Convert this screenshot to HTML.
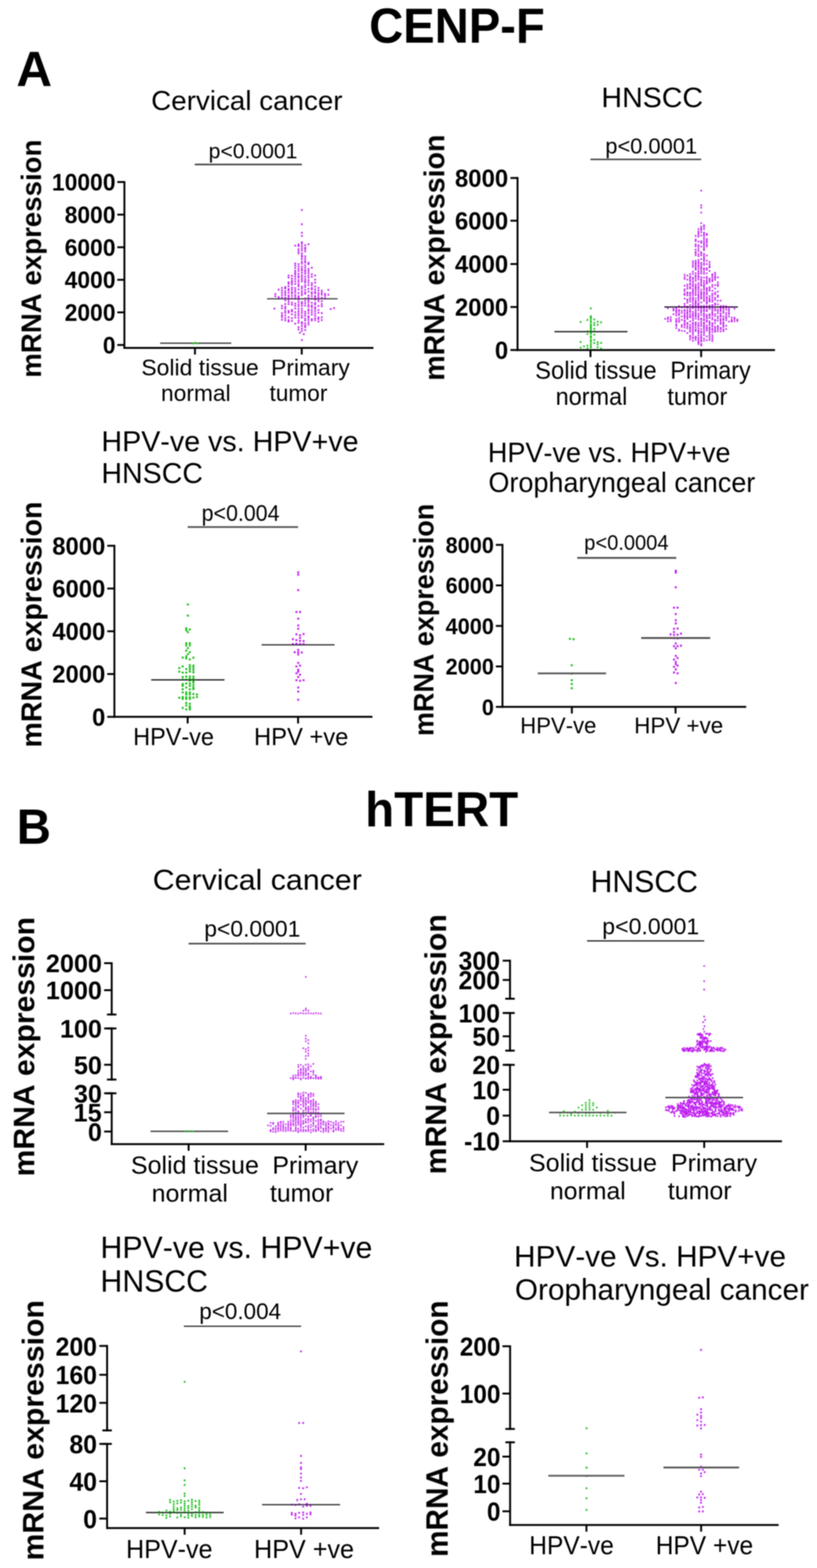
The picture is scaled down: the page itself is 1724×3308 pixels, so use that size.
<!DOCTYPE html>
<html lang="en"><head><meta charset="utf-8"><title>CENP-F and hTERT mRNA expression</title>
<style>
html,body{margin:0;padding:0;background:#fff;}
body{width:1724px;height:3308px;overflow:hidden;}
svg{display:block;font-family:'Liberation Sans', Arial, Helvetica, sans-serif;fill:#000;font-kerning:none;}
text{white-space:pre;}
</style></head><body>
<svg width="1724" height="3308" viewBox="0 0 1724 3308">
<rect width="1724" height="3308" fill="#fff"/>
<defs><filter id="soft" x="0" y="0" width="1724" height="3308" filterUnits="userSpaceOnUse"><feGaussianBlur stdDeviation="1.0"/></filter></defs>
<g filter="url(#soft)">
<text transform="translate(778.91,89.70) scale(0.9577,1)" font-size="104.0" font-weight="bold">CENP-F</text>
<text transform="translate(34.40,181.00) scale(1.0032,1)" font-size="104.0" font-weight="bold">A</text>
<text transform="translate(770.50,1742.60) scale(0.9643,1)" font-size="104.0" font-weight="bold">hTERT</text>
<text transform="translate(35.31,1780.00) scale(0.9618,1)" font-size="104.0" font-weight="bold">B</text>
<g id="A1">
<text transform="translate(319.02,232.00) scale(1.0284,1)" font-size="57.0">Cervical cancer</text>
<text transform="translate(440.32,333.60) scale(0.9914,1)" font-size="45.0">p&lt;0.0001</text>
<line x1="411.0" y1="347.0" x2="637.0" y2="347.0" stroke="#4a4a4a" stroke-width="3.4"/>
<path fill="#bd16f0" d="M579.2 618.5h3.5v3.5h-3.5zM579.2 623.2h3.5v3.5h-3.5zM586.2 609.2h3.5v3.5h-3.5zM586.2 625.0h3.5v3.5h-3.5zM586.2 628.1h3.5v3.5h-3.5zM593.2 605.7h3.5v3.5h-3.5zM593.2 610.9h3.5v3.5h-3.5zM593.2 615.8h3.5v3.5h-3.5zM593.2 620.7h3.5v3.5h-3.5zM593.2 626.1h3.5v3.5h-3.5zM593.2 643.5h3.5v3.5h-3.5zM593.2 648.4h3.5v3.5h-3.5zM593.2 658.7h3.5v3.5h-3.5zM593.2 663.5h3.5v3.5h-3.5zM593.2 667.2h3.5v3.5h-3.5zM593.2 672.7h3.5v3.5h-3.5zM600.2 603.7h3.5v3.5h-3.5zM600.2 607.0h3.5v3.5h-3.5zM600.2 612.8h3.5v3.5h-3.5zM600.2 616.8h3.5v3.5h-3.5zM600.2 620.9h3.5v3.5h-3.5zM600.2 626.2h3.5v3.5h-3.5zM600.2 632.0h3.5v3.5h-3.5zM600.2 639.8h3.5v3.5h-3.5zM600.2 645.4h3.5v3.5h-3.5zM600.2 649.2h3.5v3.5h-3.5zM600.2 654.2h3.5v3.5h-3.5zM600.2 658.4h3.5v3.5h-3.5zM600.2 664.1h3.5v3.5h-3.5zM600.2 669.5h3.5v3.5h-3.5zM600.2 674.1h3.5v3.5h-3.5zM607.2 579.5h3.5v3.5h-3.5zM607.2 584.1h3.5v3.5h-3.5zM607.2 593.8h3.5v3.5h-3.5zM607.2 596.9h3.5v3.5h-3.5zM607.2 601.9h3.5v3.5h-3.5zM607.2 607.8h3.5v3.5h-3.5zM607.2 611.2h3.5v3.5h-3.5zM607.2 616.0h3.5v3.5h-3.5zM607.2 621.4h3.5v3.5h-3.5zM607.2 625.3h3.5v3.5h-3.5zM607.2 630.5h3.5v3.5h-3.5zM607.2 635.0h3.5v3.5h-3.5zM607.2 639.7h3.5v3.5h-3.5zM607.2 654.3h3.5v3.5h-3.5zM607.2 657.8h3.5v3.5h-3.5zM607.2 667.3h3.5v3.5h-3.5zM607.2 673.4h3.5v3.5h-3.5zM607.2 676.8h3.5v3.5h-3.5zM614.2 580.3h3.5v3.5h-3.5zM614.2 586.1h3.5v3.5h-3.5zM614.2 590.7h3.5v3.5h-3.5zM614.2 594.5h3.5v3.5h-3.5zM614.2 598.6h3.5v3.5h-3.5zM614.2 604.9h3.5v3.5h-3.5zM614.2 609.3h3.5v3.5h-3.5zM614.2 614.2h3.5v3.5h-3.5zM614.2 617.3h3.5v3.5h-3.5zM614.2 622.4h3.5v3.5h-3.5zM614.2 627.8h3.5v3.5h-3.5zM614.2 636.6h3.5v3.5h-3.5zM614.2 641.1h3.5v3.5h-3.5zM614.2 651.9h3.5v3.5h-3.5zM614.2 655.2h3.5v3.5h-3.5zM614.2 661.3h3.5v3.5h-3.5zM614.2 669.5h3.5v3.5h-3.5zM614.2 675.3h3.5v3.5h-3.5zM621.2 516.6h3.5v3.5h-3.5zM621.2 554.1h3.5v3.5h-3.5zM621.2 558.6h3.5v3.5h-3.5zM621.2 563.6h3.5v3.5h-3.5zM621.2 569.2h3.5v3.5h-3.5zM621.2 573.3h3.5v3.5h-3.5zM621.2 576.9h3.5v3.5h-3.5zM621.2 581.6h3.5v3.5h-3.5zM621.2 586.5h3.5v3.5h-3.5zM621.2 591.8h3.5v3.5h-3.5zM621.2 597.2h3.5v3.5h-3.5zM621.2 606.0h3.5v3.5h-3.5zM621.2 610.7h3.5v3.5h-3.5zM621.2 615.0h3.5v3.5h-3.5zM621.2 620.2h3.5v3.5h-3.5zM621.2 624.6h3.5v3.5h-3.5zM621.2 628.7h3.5v3.5h-3.5zM621.2 638.8h3.5v3.5h-3.5zM621.2 643.4h3.5v3.5h-3.5zM621.2 648.9h3.5v3.5h-3.5zM621.2 657.1h3.5v3.5h-3.5zM621.2 662.7h3.5v3.5h-3.5zM621.2 667.9h3.5v3.5h-3.5zM621.2 680.9h3.5v3.5h-3.5zM628.2 514.0h3.5v3.5h-3.5zM628.2 517.6h3.5v3.5h-3.5zM628.2 523.9h3.5v3.5h-3.5zM628.2 528.6h3.5v3.5h-3.5zM628.2 532.7h3.5v3.5h-3.5zM628.2 555.4h3.5v3.5h-3.5zM628.2 560.5h3.5v3.5h-3.5zM628.2 565.6h3.5v3.5h-3.5zM628.2 569.9h3.5v3.5h-3.5zM628.2 575.8h3.5v3.5h-3.5zM628.2 580.6h3.5v3.5h-3.5zM628.2 583.8h3.5v3.5h-3.5zM628.2 589.3h3.5v3.5h-3.5zM628.2 593.8h3.5v3.5h-3.5zM628.2 598.6h3.5v3.5h-3.5zM628.2 602.3h3.5v3.5h-3.5zM628.2 608.8h3.5v3.5h-3.5zM628.2 616.5h3.5v3.5h-3.5zM628.2 622.8h3.5v3.5h-3.5zM628.2 626.1h3.5v3.5h-3.5zM628.2 630.6h3.5v3.5h-3.5zM628.2 635.5h3.5v3.5h-3.5zM628.2 640.4h3.5v3.5h-3.5zM628.2 644.7h3.5v3.5h-3.5zM628.2 650.2h3.5v3.5h-3.5zM628.2 654.9h3.5v3.5h-3.5zM628.2 659.4h3.5v3.5h-3.5zM628.2 663.7h3.5v3.5h-3.5zM628.2 669.0h3.5v3.5h-3.5zM628.2 674.4h3.5v3.5h-3.5zM628.2 679.0h3.5v3.5h-3.5zM628.2 688.6h3.5v3.5h-3.5zM628.2 693.3h3.5v3.5h-3.5zM635.2 512.4h3.5v3.5h-3.5zM635.2 517.4h3.5v3.5h-3.5zM635.2 522.1h3.5v3.5h-3.5zM635.2 526.4h3.5v3.5h-3.5zM635.2 532.6h3.5v3.5h-3.5zM635.2 536.9h3.5v3.5h-3.5zM635.2 540.5h3.5v3.5h-3.5zM635.2 544.9h3.5v3.5h-3.5zM635.2 550.6h3.5v3.5h-3.5zM635.2 554.6h3.5v3.5h-3.5zM635.2 560.7h3.5v3.5h-3.5zM635.2 565.5h3.5v3.5h-3.5zM635.2 568.9h3.5v3.5h-3.5zM635.2 573.8h3.5v3.5h-3.5zM635.2 579.1h3.5v3.5h-3.5zM635.2 583.3h3.5v3.5h-3.5zM635.2 587.5h3.5v3.5h-3.5zM635.2 591.8h3.5v3.5h-3.5zM635.2 602.9h3.5v3.5h-3.5zM635.2 607.1h3.5v3.5h-3.5zM635.2 612.2h3.5v3.5h-3.5zM635.2 616.8h3.5v3.5h-3.5zM635.2 620.8h3.5v3.5h-3.5zM635.2 635.6h3.5v3.5h-3.5zM635.2 638.9h3.5v3.5h-3.5zM635.2 643.5h3.5v3.5h-3.5zM635.2 649.4h3.5v3.5h-3.5zM635.2 654.2h3.5v3.5h-3.5zM635.2 658.7h3.5v3.5h-3.5zM635.2 664.3h3.5v3.5h-3.5zM635.2 668.5h3.5v3.5h-3.5zM635.2 677.9h3.5v3.5h-3.5zM635.2 681.2h3.5v3.5h-3.5zM635.2 686.0h3.5v3.5h-3.5zM635.2 691.6h3.5v3.5h-3.5zM635.2 696.3h3.5v3.5h-3.5zM642.2 515.4h3.5v3.5h-3.5zM642.2 520.8h3.5v3.5h-3.5zM642.2 524.0h3.5v3.5h-3.5zM642.2 528.5h3.5v3.5h-3.5zM642.2 538.9h3.5v3.5h-3.5zM642.2 543.8h3.5v3.5h-3.5zM642.2 548.6h3.5v3.5h-3.5zM642.2 552.3h3.5v3.5h-3.5zM642.2 558.1h3.5v3.5h-3.5zM642.2 562.7h3.5v3.5h-3.5zM642.2 567.8h3.5v3.5h-3.5zM642.2 571.5h3.5v3.5h-3.5zM642.2 575.8h3.5v3.5h-3.5zM642.2 581.5h3.5v3.5h-3.5zM642.2 586.4h3.5v3.5h-3.5zM642.2 590.7h3.5v3.5h-3.5zM642.2 594.3h3.5v3.5h-3.5zM642.2 599.7h3.5v3.5h-3.5zM642.2 604.1h3.5v3.5h-3.5zM642.2 609.8h3.5v3.5h-3.5zM642.2 614.9h3.5v3.5h-3.5zM642.2 617.9h3.5v3.5h-3.5zM642.2 627.8h3.5v3.5h-3.5zM642.2 632.9h3.5v3.5h-3.5zM642.2 638.0h3.5v3.5h-3.5zM642.2 643.1h3.5v3.5h-3.5zM642.2 655.8h3.5v3.5h-3.5zM642.2 660.2h3.5v3.5h-3.5zM642.2 664.8h3.5v3.5h-3.5zM642.2 670.6h3.5v3.5h-3.5zM642.2 674.5h3.5v3.5h-3.5zM642.2 680.4h3.5v3.5h-3.5zM642.2 685.1h3.5v3.5h-3.5zM642.2 688.6h3.5v3.5h-3.5zM642.2 694.5h3.5v3.5h-3.5zM649.2 513.6h3.5v3.5h-3.5zM649.2 552.4h3.5v3.5h-3.5zM649.2 555.5h3.5v3.5h-3.5zM649.2 565.8h3.5v3.5h-3.5zM649.2 570.0h3.5v3.5h-3.5zM649.2 574.5h3.5v3.5h-3.5zM649.2 579.4h3.5v3.5h-3.5zM649.2 584.0h3.5v3.5h-3.5zM649.2 589.6h3.5v3.5h-3.5zM649.2 594.3h3.5v3.5h-3.5zM649.2 599.5h3.5v3.5h-3.5zM649.2 607.6h3.5v3.5h-3.5zM649.2 613.6h3.5v3.5h-3.5zM649.2 621.8h3.5v3.5h-3.5zM649.2 626.6h3.5v3.5h-3.5zM649.2 632.1h3.5v3.5h-3.5zM649.2 636.3h3.5v3.5h-3.5zM649.2 641.6h3.5v3.5h-3.5zM649.2 645.6h3.5v3.5h-3.5zM649.2 651.2h3.5v3.5h-3.5zM649.2 654.1h3.5v3.5h-3.5zM649.2 658.9h3.5v3.5h-3.5zM649.2 665.2h3.5v3.5h-3.5zM649.2 668.4h3.5v3.5h-3.5zM649.2 673.3h3.5v3.5h-3.5zM649.2 678.5h3.5v3.5h-3.5zM649.2 682.9h3.5v3.5h-3.5zM656.2 562.9h3.5v3.5h-3.5zM656.2 576.8h3.5v3.5h-3.5zM656.2 581.9h3.5v3.5h-3.5zM656.2 595.7h3.5v3.5h-3.5zM656.2 599.9h3.5v3.5h-3.5zM656.2 605.7h3.5v3.5h-3.5zM656.2 608.8h3.5v3.5h-3.5zM656.2 615.0h3.5v3.5h-3.5zM656.2 618.0h3.5v3.5h-3.5zM656.2 622.9h3.5v3.5h-3.5zM656.2 628.4h3.5v3.5h-3.5zM656.2 637.0h3.5v3.5h-3.5zM656.2 642.7h3.5v3.5h-3.5zM656.2 646.4h3.5v3.5h-3.5zM656.2 652.2h3.5v3.5h-3.5zM656.2 657.0h3.5v3.5h-3.5zM656.2 661.9h3.5v3.5h-3.5zM656.2 671.4h3.5v3.5h-3.5zM656.2 674.3h3.5v3.5h-3.5zM663.2 579.4h3.5v3.5h-3.5zM663.2 588.3h3.5v3.5h-3.5zM663.2 594.6h3.5v3.5h-3.5zM663.2 602.7h3.5v3.5h-3.5zM663.2 608.8h3.5v3.5h-3.5zM663.2 613.7h3.5v3.5h-3.5zM663.2 616.8h3.5v3.5h-3.5zM663.2 622.8h3.5v3.5h-3.5zM663.2 626.0h3.5v3.5h-3.5zM663.2 630.8h3.5v3.5h-3.5zM663.2 637.2h3.5v3.5h-3.5zM663.2 640.6h3.5v3.5h-3.5zM663.2 646.5h3.5v3.5h-3.5zM663.2 649.8h3.5v3.5h-3.5zM663.2 654.4h3.5v3.5h-3.5zM663.2 659.4h3.5v3.5h-3.5zM663.2 664.4h3.5v3.5h-3.5zM663.2 669.5h3.5v3.5h-3.5zM663.2 673.8h3.5v3.5h-3.5zM670.2 605.8h3.5v3.5h-3.5zM670.2 610.9h3.5v3.5h-3.5zM670.2 616.5h3.5v3.5h-3.5zM670.2 620.4h3.5v3.5h-3.5zM670.2 625.0h3.5v3.5h-3.5zM670.2 629.4h3.5v3.5h-3.5zM670.2 633.7h3.5v3.5h-3.5zM670.2 643.8h3.5v3.5h-3.5zM670.2 652.3h3.5v3.5h-3.5zM670.2 658.1h3.5v3.5h-3.5zM670.2 667.9h3.5v3.5h-3.5zM670.2 671.3h3.5v3.5h-3.5zM670.2 676.4h3.5v3.5h-3.5zM677.2 611.6h3.5v3.5h-3.5zM677.2 615.8h3.5v3.5h-3.5zM677.2 619.7h3.5v3.5h-3.5zM677.2 626.4h3.5v3.5h-3.5zM677.2 633.8h3.5v3.5h-3.5zM677.2 639.8h3.5v3.5h-3.5zM677.2 644.2h3.5v3.5h-3.5zM677.2 658.8h3.5v3.5h-3.5zM677.2 667.7h3.5v3.5h-3.5zM677.2 673.4h3.5v3.5h-3.5zM684.2 618.3h3.5v3.5h-3.5zM684.2 622.3h3.5v3.5h-3.5zM684.2 627.1h3.5v3.5h-3.5zM691.2 609.9h3.5v3.5h-3.5zM691.2 620.1h3.5v3.5h-3.5z"/>
<path fill="#bd16f0" d="M635.2 441.2h3.5v3.5h-3.5zM635.2 471.2h3.5v3.5h-3.5zM635.2 489.2h3.5v3.5h-3.5zM635.2 495.9h3.5v3.5h-3.5zM635.2 509.2h3.5v3.5h-3.5zM635.2 715.8h3.5v3.5h-3.5zM631.2 700.2h3.5v3.5h-3.5zM639.2 703.2h3.5v3.5h-3.5zM577.2 649.2h3.5v3.5h-3.5zM696.2 650.2h3.5v3.5h-3.5zM703.2 648.2h3.5v3.5h-3.5z"/>
<line x1="338.0" y1="724.0" x2="488.0" y2="724.0" stroke="#2a2a2a" stroke-width="2.3"/>
<line x1="563.5" y1="630.4" x2="712.5" y2="630.4" stroke="#2a2a2a" stroke-width="2.3"/>
<path fill="#0cba0c" d="M406.4 723.0h3.2v3.2h-3.2zM410.4 721.4h3.2v3.2h-3.2zM414.4 723.0h3.2v3.2h-3.2z"/>
<line x1="262.5" y1="382.0" x2="262.5" y2="736.0" stroke="#000" stroke-width="4.0"/>
<line x1="247.5" y1="384.0" x2="262.5" y2="384.0" stroke="#000" stroke-width="4.0"/>
<text transform="translate(109.61,401.90) scale(0.9650,1)" font-size="50.0" font-weight="bold">10000</text>
<line x1="247.5" y1="452.8" x2="262.5" y2="452.8" stroke="#000" stroke-width="4.0"/>
<text transform="translate(136.44,470.70) scale(0.9650,1)" font-size="50.0" font-weight="bold">8000</text>
<line x1="247.5" y1="521.6" x2="262.5" y2="521.6" stroke="#000" stroke-width="4.0"/>
<text transform="translate(136.44,539.50) scale(0.9650,1)" font-size="50.0" font-weight="bold">6000</text>
<line x1="247.5" y1="590.3" x2="262.5" y2="590.3" stroke="#000" stroke-width="4.0"/>
<text transform="translate(136.44,608.20) scale(0.9650,1)" font-size="50.0" font-weight="bold">4000</text>
<line x1="247.5" y1="659.0" x2="262.5" y2="659.0" stroke="#000" stroke-width="4.0"/>
<text transform="translate(136.44,676.90) scale(0.9650,1)" font-size="50.0" font-weight="bold">2000</text>
<line x1="247.5" y1="727.8" x2="262.5" y2="727.8" stroke="#000" stroke-width="4.0"/>
<text transform="translate(216.94,745.70) scale(0.9650,1)" font-size="50.0" font-weight="bold">0</text>
<line x1="260.5" y1="734.0" x2="788.0" y2="734.0" stroke="#000" stroke-width="4.0"/>
<line x1="411.4" y1="734.0" x2="411.4" y2="748.0" stroke="#000" stroke-width="4.0"/>
<line x1="636.7" y1="734.0" x2="636.7" y2="748.0" stroke="#000" stroke-width="4.0"/>
<text transform="translate(298.30,791.50) scale(0.9993,1)" font-size="48.5">Solid tissue</text>
<text transform="translate(339.81,845.80) scale(0.9910,1)" font-size="48.5">normal</text>
<text transform="translate(572.05,791.50) scale(0.9940,1)" font-size="48.5">Primary</text>
<text transform="translate(568.78,845.80) scale(0.9842,1)" font-size="48.5">tumor</text>
<text transform="translate(86.50,796.85) rotate(-90) scale(0.9722,1)" font-size="60.0" font-weight="bold">mRNA expression</text>
</g>
<g id="A2">
<text transform="translate(1269.05,226.30) scale(1.0061,1)" font-size="60.0">HNSCC</text>
<text transform="translate(1277.22,323.70) scale(1.0153,1)" font-size="45.5">p&lt;0.0001</text>
<line x1="1246.0" y1="336.3" x2="1479.5" y2="336.3" stroke="#3a3a3a" stroke-width="3.0"/>
<path fill="#bd16f0" d="M1402.0 670.9h3.3v3.3h-3.3zM1407.8 648.6h3.3v3.3h-3.3zM1407.8 668.2h3.3v3.3h-3.3zM1407.8 671.4h3.3v3.3h-3.3zM1407.8 676.4h3.3v3.3h-3.3zM1413.7 667.5h3.3v3.3h-3.3zM1413.7 672.3h3.3v3.3h-3.3zM1413.7 675.9h3.3v3.3h-3.3zM1419.5 650.0h3.3v3.3h-3.3zM1419.5 653.3h3.3v3.3h-3.3zM1419.5 661.2h3.3v3.3h-3.3zM1425.4 648.7h3.3v3.3h-3.3zM1425.4 652.6h3.3v3.3h-3.3zM1425.4 655.7h3.3v3.3h-3.3zM1425.4 659.4h3.3v3.3h-3.3zM1425.4 663.7h3.3v3.3h-3.3zM1425.4 671.0h3.3v3.3h-3.3zM1425.4 674.9h3.3v3.3h-3.3zM1425.4 678.0h3.3v3.3h-3.3zM1425.4 683.0h3.3v3.3h-3.3zM1425.4 685.8h3.3v3.3h-3.3zM1425.4 690.5h3.3v3.3h-3.3zM1431.2 644.2h3.3v3.3h-3.3zM1431.2 651.9h3.3v3.3h-3.3zM1431.2 655.0h3.3v3.3h-3.3zM1431.2 659.4h3.3v3.3h-3.3zM1431.2 663.1h3.3v3.3h-3.3zM1431.2 669.5h3.3v3.3h-3.3zM1431.2 673.8h3.3v3.3h-3.3zM1431.2 677.5h3.3v3.3h-3.3zM1431.2 693.7h3.3v3.3h-3.3zM1431.2 696.0h3.3v3.3h-3.3zM1437.1 646.9h3.3v3.3h-3.3zM1437.1 654.0h3.3v3.3h-3.3zM1437.1 658.5h3.3v3.3h-3.3zM1437.1 666.0h3.3v3.3h-3.3zM1437.1 673.2h3.3v3.3h-3.3zM1437.1 684.1h3.3v3.3h-3.3zM1437.1 688.0h3.3v3.3h-3.3zM1437.1 696.2h3.3v3.3h-3.3zM1443.0 578.2h3.3v3.3h-3.3zM1443.0 582.9h3.3v3.3h-3.3zM1443.0 586.7h3.3v3.3h-3.3zM1443.0 600.9h3.3v3.3h-3.3zM1443.0 608.8h3.3v3.3h-3.3zM1443.0 612.2h3.3v3.3h-3.3zM1443.0 617.4h3.3v3.3h-3.3zM1443.0 620.7h3.3v3.3h-3.3zM1443.0 628.2h3.3v3.3h-3.3zM1443.0 639.6h3.3v3.3h-3.3zM1443.0 643.9h3.3v3.3h-3.3zM1443.0 651.8h3.3v3.3h-3.3zM1443.0 654.1h3.3v3.3h-3.3zM1443.0 658.5h3.3v3.3h-3.3zM1443.0 662.6h3.3v3.3h-3.3zM1443.0 666.0h3.3v3.3h-3.3zM1443.0 669.3h3.3v3.3h-3.3zM1443.0 674.1h3.3v3.3h-3.3zM1443.0 677.5h3.3v3.3h-3.3zM1443.0 681.4h3.3v3.3h-3.3zM1443.0 684.5h3.3v3.3h-3.3zM1443.0 689.3h3.3v3.3h-3.3zM1443.0 697.0h3.3v3.3h-3.3zM1448.8 579.7h3.3v3.3h-3.3zM1448.8 588.2h3.3v3.3h-3.3zM1448.8 598.8h3.3v3.3h-3.3zM1448.8 603.0h3.3v3.3h-3.3zM1448.8 607.4h3.3v3.3h-3.3zM1448.8 615.0h3.3v3.3h-3.3zM1448.8 617.8h3.3v3.3h-3.3zM1448.8 621.5h3.3v3.3h-3.3zM1448.8 630.0h3.3v3.3h-3.3zM1448.8 632.8h3.3v3.3h-3.3zM1448.8 636.9h3.3v3.3h-3.3zM1448.8 644.9h3.3v3.3h-3.3zM1448.8 648.3h3.3v3.3h-3.3zM1448.8 653.0h3.3v3.3h-3.3zM1448.8 656.8h3.3v3.3h-3.3zM1448.8 659.9h3.3v3.3h-3.3zM1448.8 664.0h3.3v3.3h-3.3zM1448.8 667.6h3.3v3.3h-3.3zM1448.8 671.2h3.3v3.3h-3.3zM1448.8 679.4h3.3v3.3h-3.3zM1448.8 682.0h3.3v3.3h-3.3zM1448.8 686.6h3.3v3.3h-3.3zM1448.8 690.8h3.3v3.3h-3.3zM1448.8 701.0h3.3v3.3h-3.3zM1454.6 576.5h3.3v3.3h-3.3zM1454.6 581.2h3.3v3.3h-3.3zM1454.6 584.5h3.3v3.3h-3.3zM1454.6 588.2h3.3v3.3h-3.3zM1454.6 591.7h3.3v3.3h-3.3zM1454.6 596.5h3.3v3.3h-3.3zM1454.6 599.3h3.3v3.3h-3.3zM1454.6 604.1h3.3v3.3h-3.3zM1454.6 606.9h3.3v3.3h-3.3zM1454.6 615.5h3.3v3.3h-3.3zM1454.6 618.3h3.3v3.3h-3.3zM1454.6 622.0h3.3v3.3h-3.3zM1454.6 626.8h3.3v3.3h-3.3zM1454.6 630.4h3.3v3.3h-3.3zM1454.6 634.7h3.3v3.3h-3.3zM1454.6 642.2h3.3v3.3h-3.3zM1454.6 650.1h3.3v3.3h-3.3zM1454.6 653.9h3.3v3.3h-3.3zM1454.6 656.7h3.3v3.3h-3.3zM1454.6 661.2h3.3v3.3h-3.3zM1454.6 665.3h3.3v3.3h-3.3zM1454.6 667.9h3.3v3.3h-3.3zM1454.6 676.4h3.3v3.3h-3.3zM1454.6 683.4h3.3v3.3h-3.3zM1454.6 687.9h3.3v3.3h-3.3zM1454.6 690.4h3.3v3.3h-3.3zM1454.6 694.2h3.3v3.3h-3.3zM1454.6 698.1h3.3v3.3h-3.3zM1454.6 706.4h3.3v3.3h-3.3zM1454.6 710.0h3.3v3.3h-3.3zM1454.6 714.4h3.3v3.3h-3.3zM1460.5 549.4h3.3v3.3h-3.3zM1460.5 553.5h3.3v3.3h-3.3zM1460.5 557.7h3.3v3.3h-3.3zM1460.5 561.4h3.3v3.3h-3.3zM1460.5 571.6h3.3v3.3h-3.3zM1460.5 576.3h3.3v3.3h-3.3zM1460.5 584.2h3.3v3.3h-3.3zM1460.5 586.9h3.3v3.3h-3.3zM1460.5 591.4h3.3v3.3h-3.3zM1460.5 595.4h3.3v3.3h-3.3zM1460.5 599.6h3.3v3.3h-3.3zM1460.5 602.4h3.3v3.3h-3.3zM1460.5 607.3h3.3v3.3h-3.3zM1460.5 611.0h3.3v3.3h-3.3zM1460.5 614.4h3.3v3.3h-3.3zM1460.5 617.6h3.3v3.3h-3.3zM1460.5 621.4h3.3v3.3h-3.3zM1460.5 626.0h3.3v3.3h-3.3zM1460.5 629.2h3.3v3.3h-3.3zM1460.5 632.7h3.3v3.3h-3.3zM1460.5 637.3h3.3v3.3h-3.3zM1460.5 641.4h3.3v3.3h-3.3zM1460.5 645.0h3.3v3.3h-3.3zM1460.5 648.4h3.3v3.3h-3.3zM1460.5 656.2h3.3v3.3h-3.3zM1460.5 660.2h3.3v3.3h-3.3zM1460.5 663.6h3.3v3.3h-3.3zM1460.5 666.7h3.3v3.3h-3.3zM1460.5 670.8h3.3v3.3h-3.3zM1460.5 674.4h3.3v3.3h-3.3zM1460.5 679.3h3.3v3.3h-3.3zM1460.5 682.2h3.3v3.3h-3.3zM1460.5 685.9h3.3v3.3h-3.3zM1460.5 689.8h3.3v3.3h-3.3zM1460.5 693.4h3.3v3.3h-3.3zM1460.5 697.3h3.3v3.3h-3.3zM1460.5 701.0h3.3v3.3h-3.3zM1460.5 704.8h3.3v3.3h-3.3zM1460.5 709.7h3.3v3.3h-3.3zM1460.5 712.2h3.3v3.3h-3.3zM1460.5 717.5h3.3v3.3h-3.3zM1466.3 495.9h3.3v3.3h-3.3zM1466.3 503.6h3.3v3.3h-3.3zM1466.3 507.2h3.3v3.3h-3.3zM1466.3 514.1h3.3v3.3h-3.3zM1466.3 517.9h3.3v3.3h-3.3zM1466.3 525.1h3.3v3.3h-3.3zM1466.3 529.9h3.3v3.3h-3.3zM1466.3 532.7h3.3v3.3h-3.3zM1466.3 536.7h3.3v3.3h-3.3zM1466.3 548.4h3.3v3.3h-3.3zM1466.3 552.3h3.3v3.3h-3.3zM1466.3 555.6h3.3v3.3h-3.3zM1466.3 559.6h3.3v3.3h-3.3zM1466.3 563.6h3.3v3.3h-3.3zM1466.3 567.1h3.3v3.3h-3.3zM1466.3 574.7h3.3v3.3h-3.3zM1466.3 579.3h3.3v3.3h-3.3zM1466.3 582.4h3.3v3.3h-3.3zM1466.3 586.8h3.3v3.3h-3.3zM1466.3 590.9h3.3v3.3h-3.3zM1466.3 598.3h3.3v3.3h-3.3zM1466.3 602.3h3.3v3.3h-3.3zM1466.3 605.2h3.3v3.3h-3.3zM1466.3 608.8h3.3v3.3h-3.3zM1466.3 612.7h3.3v3.3h-3.3zM1466.3 617.1h3.3v3.3h-3.3zM1466.3 621.3h3.3v3.3h-3.3zM1466.3 628.3h3.3v3.3h-3.3zM1466.3 632.9h3.3v3.3h-3.3zM1466.3 636.2h3.3v3.3h-3.3zM1466.3 639.5h3.3v3.3h-3.3zM1466.3 642.9h3.3v3.3h-3.3zM1466.3 646.6h3.3v3.3h-3.3zM1466.3 651.1h3.3v3.3h-3.3zM1466.3 655.2h3.3v3.3h-3.3zM1466.3 659.1h3.3v3.3h-3.3zM1466.3 662.8h3.3v3.3h-3.3zM1466.3 665.9h3.3v3.3h-3.3zM1466.3 670.4h3.3v3.3h-3.3zM1466.3 678.4h3.3v3.3h-3.3zM1466.3 682.0h3.3v3.3h-3.3zM1466.3 684.5h3.3v3.3h-3.3zM1466.3 688.9h3.3v3.3h-3.3zM1466.3 693.4h3.3v3.3h-3.3zM1466.3 696.8h3.3v3.3h-3.3zM1466.3 708.5h3.3v3.3h-3.3zM1466.3 711.6h3.3v3.3h-3.3zM1466.3 715.5h3.3v3.3h-3.3zM1472.2 481.4h3.3v3.3h-3.3zM1472.2 486.4h3.3v3.3h-3.3zM1472.2 490.0h3.3v3.3h-3.3zM1472.2 493.6h3.3v3.3h-3.3zM1472.2 497.7h3.3v3.3h-3.3zM1472.2 508.3h3.3v3.3h-3.3zM1472.2 515.4h3.3v3.3h-3.3zM1472.2 519.0h3.3v3.3h-3.3zM1472.2 523.8h3.3v3.3h-3.3zM1472.2 528.1h3.3v3.3h-3.3zM1472.2 534.7h3.3v3.3h-3.3zM1472.2 538.7h3.3v3.3h-3.3zM1472.2 546.8h3.3v3.3h-3.3zM1472.2 550.8h3.3v3.3h-3.3zM1472.2 553.7h3.3v3.3h-3.3zM1472.2 557.8h3.3v3.3h-3.3zM1472.2 560.8h3.3v3.3h-3.3zM1472.2 564.9h3.3v3.3h-3.3zM1472.2 569.7h3.3v3.3h-3.3zM1472.2 573.4h3.3v3.3h-3.3zM1472.2 576.9h3.3v3.3h-3.3zM1472.2 581.0h3.3v3.3h-3.3zM1472.2 584.0h3.3v3.3h-3.3zM1472.2 588.2h3.3v3.3h-3.3zM1472.2 595.4h3.3v3.3h-3.3zM1472.2 599.6h3.3v3.3h-3.3zM1472.2 603.9h3.3v3.3h-3.3zM1472.2 606.5h3.3v3.3h-3.3zM1472.2 610.5h3.3v3.3h-3.3zM1472.2 614.8h3.3v3.3h-3.3zM1472.2 619.0h3.3v3.3h-3.3zM1472.2 622.2h3.3v3.3h-3.3zM1472.2 625.8h3.3v3.3h-3.3zM1472.2 629.2h3.3v3.3h-3.3zM1472.2 633.3h3.3v3.3h-3.3zM1472.2 638.2h3.3v3.3h-3.3zM1472.2 641.3h3.3v3.3h-3.3zM1472.2 644.5h3.3v3.3h-3.3zM1472.2 648.7h3.3v3.3h-3.3zM1472.2 653.0h3.3v3.3h-3.3zM1472.2 660.1h3.3v3.3h-3.3zM1472.2 664.6h3.3v3.3h-3.3zM1472.2 668.3h3.3v3.3h-3.3zM1472.2 672.5h3.3v3.3h-3.3zM1472.2 679.5h3.3v3.3h-3.3zM1472.2 683.7h3.3v3.3h-3.3zM1472.2 686.4h3.3v3.3h-3.3zM1472.2 691.0h3.3v3.3h-3.3zM1472.2 695.3h3.3v3.3h-3.3zM1472.2 697.9h3.3v3.3h-3.3zM1472.2 701.5h3.3v3.3h-3.3zM1472.2 705.8h3.3v3.3h-3.3zM1472.2 710.2h3.3v3.3h-3.3zM1472.2 713.9h3.3v3.3h-3.3zM1472.2 718.1h3.3v3.3h-3.3zM1472.2 720.9h3.3v3.3h-3.3zM1472.2 724.3h3.3v3.3h-3.3zM1478.0 469.3h3.3v3.3h-3.3zM1478.0 476.7h3.3v3.3h-3.3zM1478.0 480.6h3.3v3.3h-3.3zM1478.0 483.7h3.3v3.3h-3.3zM1478.0 488.3h3.3v3.3h-3.3zM1478.0 495.2h3.3v3.3h-3.3zM1478.0 507.3h3.3v3.3h-3.3zM1478.0 510.6h3.3v3.3h-3.3zM1478.0 518.5h3.3v3.3h-3.3zM1478.0 530.4h3.3v3.3h-3.3zM1478.0 533.1h3.3v3.3h-3.3zM1478.0 537.3h3.3v3.3h-3.3zM1478.0 544.9h3.3v3.3h-3.3zM1478.0 553.1h3.3v3.3h-3.3zM1478.0 556.8h3.3v3.3h-3.3zM1478.0 560.8h3.3v3.3h-3.3zM1478.0 563.4h3.3v3.3h-3.3zM1478.0 567.1h3.3v3.3h-3.3zM1478.0 571.6h3.3v3.3h-3.3zM1478.0 575.4h3.3v3.3h-3.3zM1478.0 583.0h3.3v3.3h-3.3zM1478.0 587.3h3.3v3.3h-3.3zM1478.0 590.1h3.3v3.3h-3.3zM1478.0 594.0h3.3v3.3h-3.3zM1478.0 598.3h3.3v3.3h-3.3zM1478.0 601.3h3.3v3.3h-3.3zM1478.0 609.2h3.3v3.3h-3.3zM1478.0 613.9h3.3v3.3h-3.3zM1478.0 617.3h3.3v3.3h-3.3zM1478.0 620.6h3.3v3.3h-3.3zM1478.0 624.8h3.3v3.3h-3.3zM1478.0 628.1h3.3v3.3h-3.3zM1478.0 636.5h3.3v3.3h-3.3zM1478.0 644.1h3.3v3.3h-3.3zM1478.0 647.4h3.3v3.3h-3.3zM1478.0 651.2h3.3v3.3h-3.3zM1478.0 654.7h3.3v3.3h-3.3zM1478.0 658.3h3.3v3.3h-3.3zM1478.0 662.9h3.3v3.3h-3.3zM1478.0 670.2h3.3v3.3h-3.3zM1478.0 673.5h3.3v3.3h-3.3zM1478.0 678.1h3.3v3.3h-3.3zM1478.0 682.3h3.3v3.3h-3.3zM1478.0 686.2h3.3v3.3h-3.3zM1478.0 692.5h3.3v3.3h-3.3zM1478.0 697.6h3.3v3.3h-3.3zM1478.0 700.2h3.3v3.3h-3.3zM1478.0 705.0h3.3v3.3h-3.3zM1478.0 708.9h3.3v3.3h-3.3zM1478.0 712.3h3.3v3.3h-3.3zM1478.0 716.1h3.3v3.3h-3.3zM1478.0 718.9h3.3v3.3h-3.3zM1478.0 723.9h3.3v3.3h-3.3zM1478.0 727.2h3.3v3.3h-3.3zM1483.9 473.4h3.3v3.3h-3.3zM1483.9 477.0h3.3v3.3h-3.3zM1483.9 481.5h3.3v3.3h-3.3zM1483.9 489.0h3.3v3.3h-3.3zM1483.9 491.7h3.3v3.3h-3.3zM1483.9 495.3h3.3v3.3h-3.3zM1483.9 499.5h3.3v3.3h-3.3zM1483.9 503.4h3.3v3.3h-3.3zM1483.9 507.8h3.3v3.3h-3.3zM1483.9 511.6h3.3v3.3h-3.3zM1483.9 515.1h3.3v3.3h-3.3zM1483.9 519.4h3.3v3.3h-3.3zM1483.9 523.1h3.3v3.3h-3.3zM1483.9 526.3h3.3v3.3h-3.3zM1483.9 534.1h3.3v3.3h-3.3zM1483.9 538.2h3.3v3.3h-3.3zM1483.9 542.0h3.3v3.3h-3.3zM1483.9 545.6h3.3v3.3h-3.3zM1483.9 548.5h3.3v3.3h-3.3zM1483.9 553.3h3.3v3.3h-3.3zM1483.9 557.1h3.3v3.3h-3.3zM1483.9 564.2h3.3v3.3h-3.3zM1483.9 567.4h3.3v3.3h-3.3zM1483.9 571.9h3.3v3.3h-3.3zM1483.9 576.0h3.3v3.3h-3.3zM1483.9 583.9h3.3v3.3h-3.3zM1483.9 590.7h3.3v3.3h-3.3zM1483.9 594.9h3.3v3.3h-3.3zM1483.9 599.0h3.3v3.3h-3.3zM1483.9 602.1h3.3v3.3h-3.3zM1483.9 605.8h3.3v3.3h-3.3zM1483.9 609.6h3.3v3.3h-3.3zM1483.9 614.5h3.3v3.3h-3.3zM1483.9 617.8h3.3v3.3h-3.3zM1483.9 621.6h3.3v3.3h-3.3zM1483.9 625.5h3.3v3.3h-3.3zM1483.9 629.5h3.3v3.3h-3.3zM1483.9 633.2h3.3v3.3h-3.3zM1483.9 643.6h3.3v3.3h-3.3zM1483.9 648.5h3.3v3.3h-3.3zM1483.9 652.2h3.3v3.3h-3.3zM1483.9 654.9h3.3v3.3h-3.3zM1483.9 659.7h3.3v3.3h-3.3zM1483.9 663.3h3.3v3.3h-3.3zM1483.9 666.9h3.3v3.3h-3.3zM1483.9 671.5h3.3v3.3h-3.3zM1483.9 674.2h3.3v3.3h-3.3zM1483.9 678.9h3.3v3.3h-3.3zM1483.9 682.3h3.3v3.3h-3.3zM1483.9 685.9h3.3v3.3h-3.3zM1483.9 689.6h3.3v3.3h-3.3zM1483.9 693.4h3.3v3.3h-3.3zM1483.9 697.4h3.3v3.3h-3.3zM1483.9 701.2h3.3v3.3h-3.3zM1483.9 705.4h3.3v3.3h-3.3zM1483.9 712.5h3.3v3.3h-3.3zM1483.9 717.0h3.3v3.3h-3.3zM1489.8 491.6h3.3v3.3h-3.3zM1489.8 494.3h3.3v3.3h-3.3zM1489.8 502.6h3.3v3.3h-3.3zM1489.8 506.5h3.3v3.3h-3.3zM1489.8 509.7h3.3v3.3h-3.3zM1489.8 514.3h3.3v3.3h-3.3zM1489.8 518.1h3.3v3.3h-3.3zM1489.8 537.4h3.3v3.3h-3.3zM1489.8 548.2h3.3v3.3h-3.3zM1489.8 555.4h3.3v3.3h-3.3zM1489.8 564.2h3.3v3.3h-3.3zM1489.8 567.4h3.3v3.3h-3.3zM1489.8 575.0h3.3v3.3h-3.3zM1489.8 582.4h3.3v3.3h-3.3zM1489.8 585.9h3.3v3.3h-3.3zM1489.8 590.2h3.3v3.3h-3.3zM1489.8 593.7h3.3v3.3h-3.3zM1489.8 596.9h3.3v3.3h-3.3zM1489.8 606.1h3.3v3.3h-3.3zM1489.8 608.8h3.3v3.3h-3.3zM1489.8 612.3h3.3v3.3h-3.3zM1489.8 616.3h3.3v3.3h-3.3zM1489.8 619.7h3.3v3.3h-3.3zM1489.8 625.0h3.3v3.3h-3.3zM1489.8 627.5h3.3v3.3h-3.3zM1489.8 631.6h3.3v3.3h-3.3zM1489.8 635.6h3.3v3.3h-3.3zM1489.8 638.8h3.3v3.3h-3.3zM1489.8 644.1h3.3v3.3h-3.3zM1489.8 647.0h3.3v3.3h-3.3zM1489.8 651.7h3.3v3.3h-3.3zM1489.8 654.6h3.3v3.3h-3.3zM1489.8 662.5h3.3v3.3h-3.3zM1489.8 666.2h3.3v3.3h-3.3zM1489.8 669.7h3.3v3.3h-3.3zM1489.8 674.0h3.3v3.3h-3.3zM1489.8 677.3h3.3v3.3h-3.3zM1489.8 685.0h3.3v3.3h-3.3zM1489.8 689.0h3.3v3.3h-3.3zM1489.8 692.3h3.3v3.3h-3.3zM1489.8 695.9h3.3v3.3h-3.3zM1489.8 707.9h3.3v3.3h-3.3zM1489.8 715.9h3.3v3.3h-3.3zM1495.6 550.7h3.3v3.3h-3.3zM1495.6 555.4h3.3v3.3h-3.3zM1495.6 559.7h3.3v3.3h-3.3zM1495.6 562.4h3.3v3.3h-3.3zM1495.6 569.9h3.3v3.3h-3.3zM1495.6 586.2h3.3v3.3h-3.3zM1495.6 589.6h3.3v3.3h-3.3zM1495.6 593.3h3.3v3.3h-3.3zM1495.6 604.3h3.3v3.3h-3.3zM1495.6 607.8h3.3v3.3h-3.3zM1495.6 611.6h3.3v3.3h-3.3zM1495.6 623.3h3.3v3.3h-3.3zM1495.6 628.1h3.3v3.3h-3.3zM1495.6 631.7h3.3v3.3h-3.3zM1495.6 634.5h3.3v3.3h-3.3zM1495.6 643.1h3.3v3.3h-3.3zM1495.6 646.3h3.3v3.3h-3.3zM1495.6 649.9h3.3v3.3h-3.3zM1495.6 661.3h3.3v3.3h-3.3zM1495.6 664.7h3.3v3.3h-3.3zM1495.6 669.1h3.3v3.3h-3.3zM1495.6 676.4h3.3v3.3h-3.3zM1495.6 680.1h3.3v3.3h-3.3zM1495.6 683.9h3.3v3.3h-3.3zM1495.6 688.9h3.3v3.3h-3.3zM1495.6 692.2h3.3v3.3h-3.3zM1495.6 695.1h3.3v3.3h-3.3zM1495.6 698.9h3.3v3.3h-3.3zM1495.6 702.8h3.3v3.3h-3.3zM1495.6 706.7h3.3v3.3h-3.3zM1495.6 711.1h3.3v3.3h-3.3zM1495.6 715.6h3.3v3.3h-3.3zM1501.5 576.9h3.3v3.3h-3.3zM1501.5 580.3h3.3v3.3h-3.3zM1501.5 584.3h3.3v3.3h-3.3zM1501.5 588.2h3.3v3.3h-3.3zM1501.5 591.6h3.3v3.3h-3.3zM1501.5 599.4h3.3v3.3h-3.3zM1501.5 603.7h3.3v3.3h-3.3zM1501.5 611.8h3.3v3.3h-3.3zM1501.5 618.0h3.3v3.3h-3.3zM1501.5 621.8h3.3v3.3h-3.3zM1501.5 625.9h3.3v3.3h-3.3zM1501.5 630.8h3.3v3.3h-3.3zM1501.5 634.6h3.3v3.3h-3.3zM1501.5 641.8h3.3v3.3h-3.3zM1501.5 644.7h3.3v3.3h-3.3zM1501.5 649.6h3.3v3.3h-3.3zM1501.5 653.3h3.3v3.3h-3.3zM1501.5 656.9h3.3v3.3h-3.3zM1501.5 660.4h3.3v3.3h-3.3zM1501.5 663.5h3.3v3.3h-3.3zM1501.5 668.4h3.3v3.3h-3.3zM1501.5 672.2h3.3v3.3h-3.3zM1501.5 679.9h3.3v3.3h-3.3zM1501.5 683.5h3.3v3.3h-3.3zM1501.5 686.9h3.3v3.3h-3.3zM1501.5 691.4h3.3v3.3h-3.3zM1501.5 694.4h3.3v3.3h-3.3zM1501.5 699.1h3.3v3.3h-3.3zM1501.5 705.5h3.3v3.3h-3.3zM1501.5 709.4h3.3v3.3h-3.3zM1501.5 713.6h3.3v3.3h-3.3zM1501.5 717.7h3.3v3.3h-3.3zM1507.3 573.8h3.3v3.3h-3.3zM1507.3 577.4h3.3v3.3h-3.3zM1507.3 581.5h3.3v3.3h-3.3zM1507.3 584.7h3.3v3.3h-3.3zM1507.3 588.5h3.3v3.3h-3.3zM1507.3 599.8h3.3v3.3h-3.3zM1507.3 607.2h3.3v3.3h-3.3zM1507.3 615.4h3.3v3.3h-3.3zM1507.3 619.2h3.3v3.3h-3.3zM1507.3 626.5h3.3v3.3h-3.3zM1507.3 630.6h3.3v3.3h-3.3zM1507.3 638.6h3.3v3.3h-3.3zM1507.3 641.8h3.3v3.3h-3.3zM1507.3 650.0h3.3v3.3h-3.3zM1507.3 653.5h3.3v3.3h-3.3zM1507.3 660.9h3.3v3.3h-3.3zM1507.3 665.2h3.3v3.3h-3.3zM1507.3 672.7h3.3v3.3h-3.3zM1507.3 675.5h3.3v3.3h-3.3zM1507.3 680.3h3.3v3.3h-3.3zM1507.3 687.5h3.3v3.3h-3.3zM1507.3 691.1h3.3v3.3h-3.3zM1507.3 695.1h3.3v3.3h-3.3zM1507.3 698.2h3.3v3.3h-3.3zM1513.1 583.4h3.3v3.3h-3.3zM1513.1 594.0h3.3v3.3h-3.3zM1513.1 598.4h3.3v3.3h-3.3zM1513.1 601.6h3.3v3.3h-3.3zM1513.1 613.8h3.3v3.3h-3.3zM1513.1 621.7h3.3v3.3h-3.3zM1513.1 624.4h3.3v3.3h-3.3zM1513.1 632.7h3.3v3.3h-3.3zM1513.1 640.4h3.3v3.3h-3.3zM1513.1 651.3h3.3v3.3h-3.3zM1513.1 654.9h3.3v3.3h-3.3zM1513.1 659.2h3.3v3.3h-3.3zM1513.1 666.0h3.3v3.3h-3.3zM1513.1 670.0h3.3v3.3h-3.3zM1513.1 674.7h3.3v3.3h-3.3zM1513.1 686.1h3.3v3.3h-3.3zM1513.1 689.3h3.3v3.3h-3.3zM1513.1 693.1h3.3v3.3h-3.3zM1513.1 697.2h3.3v3.3h-3.3zM1519.0 632.7h3.3v3.3h-3.3zM1519.0 644.0h3.3v3.3h-3.3zM1519.0 648.2h3.3v3.3h-3.3zM1519.0 651.5h3.3v3.3h-3.3zM1519.0 654.7h3.3v3.3h-3.3zM1519.0 659.8h3.3v3.3h-3.3zM1519.0 663.2h3.3v3.3h-3.3zM1519.0 666.6h3.3v3.3h-3.3zM1519.0 671.4h3.3v3.3h-3.3zM1519.0 674.7h3.3v3.3h-3.3zM1519.0 678.5h3.3v3.3h-3.3zM1519.0 682.0h3.3v3.3h-3.3zM1519.0 689.8h3.3v3.3h-3.3zM1519.0 692.8h3.3v3.3h-3.3zM1519.0 697.4h3.3v3.3h-3.3zM1524.8 644.0h3.3v3.3h-3.3zM1524.8 646.8h3.3v3.3h-3.3zM1524.8 650.2h3.3v3.3h-3.3zM1524.8 654.8h3.3v3.3h-3.3zM1524.8 658.4h3.3v3.3h-3.3zM1524.8 665.7h3.3v3.3h-3.3zM1524.8 670.2h3.3v3.3h-3.3zM1524.8 673.4h3.3v3.3h-3.3zM1524.8 678.1h3.3v3.3h-3.3zM1524.8 681.4h3.3v3.3h-3.3zM1524.8 685.0h3.3v3.3h-3.3zM1524.8 688.4h3.3v3.3h-3.3zM1524.8 693.5h3.3v3.3h-3.3zM1524.8 696.7h3.3v3.3h-3.3zM1530.7 644.2h3.3v3.3h-3.3zM1530.7 647.5h3.3v3.3h-3.3zM1530.7 651.8h3.3v3.3h-3.3zM1530.7 658.4h3.3v3.3h-3.3zM1530.7 662.9h3.3v3.3h-3.3zM1530.7 667.2h3.3v3.3h-3.3zM1530.7 669.7h3.3v3.3h-3.3zM1530.7 673.8h3.3v3.3h-3.3zM1530.7 685.6h3.3v3.3h-3.3zM1530.7 692.4h3.3v3.3h-3.3zM1536.5 646.8h3.3v3.3h-3.3zM1536.5 650.7h3.3v3.3h-3.3zM1536.5 654.2h3.3v3.3h-3.3zM1536.5 658.5h3.3v3.3h-3.3zM1536.5 661.0h3.3v3.3h-3.3zM1536.5 665.9h3.3v3.3h-3.3zM1536.5 676.8h3.3v3.3h-3.3zM1542.4 646.0h3.3v3.3h-3.3zM1542.4 668.5h3.3v3.3h-3.3zM1542.4 673.1h3.3v3.3h-3.3zM1542.4 676.6h3.3v3.3h-3.3zM1548.2 649.8h3.3v3.3h-3.3zM1548.2 668.5h3.3v3.3h-3.3zM1548.2 671.6h3.3v3.3h-3.3zM1548.2 675.9h3.3v3.3h-3.3zM1554.1 672.6h3.3v3.3h-3.3zM1554.1 675.8h3.3v3.3h-3.3z"/>
<path fill="#0cba0c" d="M1223.5 677.5h3.5v3.5h-3.5zM1223.5 719.8h3.5v3.5h-3.5zM1223.5 731.7h3.5v3.5h-3.5zM1230.6 729.0h3.5v3.5h-3.5zM1237.8 673.3h3.5v3.5h-3.5zM1237.8 697.3h3.5v3.5h-3.5zM1237.8 702.7h3.5v3.5h-3.5zM1237.8 727.4h3.5v3.5h-3.5zM1237.8 733.2h3.5v3.5h-3.5zM1245.0 665.3h3.5v3.5h-3.5zM1245.0 683.6h3.5v3.5h-3.5zM1245.0 689.5h3.5v3.5h-3.5zM1245.0 695.5h3.5v3.5h-3.5zM1245.0 701.2h3.5v3.5h-3.5zM1245.0 708.3h3.5v3.5h-3.5zM1245.0 718.6h3.5v3.5h-3.5zM1245.0 731.1h3.5v3.5h-3.5zM1252.2 672.3h3.5v3.5h-3.5zM1252.2 679.5h3.5v3.5h-3.5zM1252.2 684.3h3.5v3.5h-3.5zM1252.2 692.1h3.5v3.5h-3.5zM1252.2 697.2h3.5v3.5h-3.5zM1252.2 704.2h3.5v3.5h-3.5zM1252.2 715.5h3.5v3.5h-3.5zM1252.2 721.9h3.5v3.5h-3.5zM1259.5 677.0h3.5v3.5h-3.5zM1259.5 683.2h3.5v3.5h-3.5zM1259.5 720.3h3.5v3.5h-3.5zM1259.5 724.8h3.5v3.5h-3.5zM1259.5 730.7h3.5v3.5h-3.5zM1266.6 678.3h3.5v3.5h-3.5zM1266.6 721.8h3.5v3.5h-3.5zM1266.6 733.6h3.5v3.5h-3.5z"/>
<path fill="#0cba0c" d="M1245.0 667.2h3.5v3.5h-3.5zM1245.0 670.6h3.5v3.5h-3.5zM1245.0 674.7h3.5v3.5h-3.5zM1245.0 678.5h3.5v3.5h-3.5zM1245.0 683.1h3.5v3.5h-3.5zM1245.0 686.5h3.5v3.5h-3.5zM1245.0 691.2h3.5v3.5h-3.5zM1245.0 694.9h3.5v3.5h-3.5zM1245.0 699.1h3.5v3.5h-3.5zM1245.0 702.5h3.5v3.5h-3.5zM1245.0 707.2h3.5v3.5h-3.5zM1245.0 710.7h3.5v3.5h-3.5zM1245.0 715.4h3.5v3.5h-3.5zM1245.0 718.6h3.5v3.5h-3.5zM1245.0 723.1h3.5v3.5h-3.5zM1245.0 726.9h3.5v3.5h-3.5zM1245.0 731.4h3.5v3.5h-3.5z"/>
<path fill="#bd16f0" d="M1478.0 400.4h3.3v3.3h-3.3zM1478.0 431.4h3.3v3.3h-3.3zM1478.0 436.4h3.3v3.3h-3.3zM1478.0 446.9h3.3v3.3h-3.3z"/>
<path fill="#0cba0c" d="M1245.0 648.8h3.5v3.5h-3.5z"/>
<line x1="1170.0" y1="699.7" x2="1324.0" y2="699.7" stroke="#0c0c0c" stroke-width="2.4"/>
<line x1="1402.0" y1="647.7" x2="1557.0" y2="647.7" stroke="#0c0c0c" stroke-width="2.4"/>
<line x1="1092.1" y1="373.5" x2="1092.1" y2="740.4" stroke="#000" stroke-width="4.0"/>
<line x1="1077.1" y1="375.5" x2="1092.1" y2="375.5" stroke="#000" stroke-width="4.0"/>
<text transform="translate(960.05,393.76) scale(0.9900,1)" font-size="51.0" font-weight="bold">8000</text>
<line x1="1077.1" y1="465.6" x2="1092.1" y2="465.6" stroke="#000" stroke-width="4.0"/>
<text transform="translate(960.05,483.86) scale(0.9900,1)" font-size="51.0" font-weight="bold">6000</text>
<line x1="1077.1" y1="557.0" x2="1092.1" y2="557.0" stroke="#000" stroke-width="4.0"/>
<text transform="translate(960.05,575.26) scale(0.9900,1)" font-size="51.0" font-weight="bold">4000</text>
<line x1="1077.1" y1="647.7" x2="1092.1" y2="647.7" stroke="#000" stroke-width="4.0"/>
<text transform="translate(960.05,665.96) scale(0.9900,1)" font-size="51.0" font-weight="bold">2000</text>
<line x1="1077.1" y1="738.4" x2="1092.1" y2="738.4" stroke="#000" stroke-width="4.0"/>
<text transform="translate(1044.29,756.66) scale(0.9900,1)" font-size="51.0" font-weight="bold">0</text>
<line x1="1090.1" y1="738.4" x2="1635.4" y2="738.4" stroke="#000" stroke-width="4.0"/>
<line x1="1246.0" y1="738.4" x2="1246.0" y2="753.4" stroke="#000" stroke-width="4.0"/>
<line x1="1479.5" y1="738.4" x2="1479.5" y2="753.4" stroke="#000" stroke-width="4.0"/>
<text transform="translate(1129.32,798.80) scale(0.9831,1)" font-size="51.0">Solid tissue</text>
<text transform="translate(1172.51,854.20) scale(0.9706,1)" font-size="51.0">normal</text>
<text transform="translate(1414.46,798.80) scale(0.9657,1)" font-size="51.0">Primary</text>
<text transform="translate(1408.25,854.20) scale(0.9709,1)" font-size="51.0">tumor</text>
<text transform="translate(937.40,803.28) rotate(-90) scale(0.9969,1)" font-size="60.5" font-weight="bold">mRNA expression</text>
</g>
<g id="A3">
<text transform="translate(214.04,951.80) scale(0.9912,1)" font-size="61.0">HPV-ve vs. HPV+ve</text>
<text transform="translate(214.06,1018.80) scale(0.9877,1)" font-size="61.0">HNSCC</text>
<text transform="translate(425.49,1098.60) scale(0.9498,1)" font-size="47.5">p&lt;0.004</text>
<line x1="396.0" y1="1111.8" x2="629.0" y2="1111.8" stroke="#5a5a5a" stroke-width="3.8"/>
<path fill="#0cba0c" d="M394.4 1273.2h4v4h-4zM394.4 1296.8h4v4h-4zM391.0 1323.5h4v4h-4zM391.0 1327.7h4v4h-4zM398.5 1325.9h4v4h-4zM394.4 1331.4h4v4h-4zM391.0 1355.1h4v4h-4zM398.5 1355.1h4v4h-4zM391.0 1359.5h4v4h-4zM398.5 1359.5h4v4h-4zM394.4 1365.3h4v4h-4zM391.0 1370.8h4v4h-4zM398.5 1373.9h4v4h-4zM394.4 1378.3h4v4h-4zM383.5 1385.2h4v4h-4zM391.0 1382.8h4v4h-4zM391.0 1386.9h4v4h-4zM406.1 1385.5h4v4h-4zM398.5 1389.3h4v4h-4zM376.3 1407.5h4v4h-4zM376.3 1415.0h4v4h-4zM383.5 1404.0h4v4h-4zM383.5 1417.0h4v4h-4zM391.0 1409.5h4v4h-4zM391.0 1417.0h4v4h-4zM398.5 1401.3h4v4h-4zM398.5 1405.7h4v4h-4zM398.5 1410.2h4v4h-4zM398.5 1415.0h4v4h-4zM406.1 1402.3h4v4h-4zM406.1 1406.8h4v4h-4zM406.1 1411.6h4v4h-4zM406.1 1416.4h4v4h-4zM383.5 1426.3h4v4h-4zM391.0 1425.3h4v4h-4zM398.5 1425.3h4v4h-4zM406.1 1425.3h4v4h-4zM383.5 1431.4h4v4h-4zM391.0 1431.4h4v4h-4zM398.5 1429.7h4v4h-4zM406.1 1429.7h4v4h-4zM398.5 1434.2h4v4h-4zM406.1 1434.8h4v4h-4zM383.5 1441.0h4v4h-4zM391.0 1440.0h4v4h-4zM398.5 1440.0h4v4h-4zM406.1 1438.3h4v4h-4zM383.5 1445.1h4v4h-4zM398.5 1445.1h4v4h-4zM406.1 1443.4h4v4h-4zM391.0 1448.5h4v4h-4zM406.1 1448.5h4v4h-4zM383.5 1452.0h4v4h-4zM398.5 1452.0h4v4h-4zM406.1 1452.0h4v4h-4zM383.5 1458.8h4v4h-4zM391.0 1458.8h4v4h-4zM398.5 1458.8h4v4h-4zM391.0 1462.9h4v4h-4zM398.5 1462.9h4v4h-4zM406.1 1462.2h4v4h-4zM413.6 1462.9h4v4h-4zM376.3 1470.1h4v4h-4zM383.5 1468.4h4v4h-4zM391.0 1469.1h4v4h-4zM398.5 1469.1h4v4h-4zM406.1 1469.8h4v4h-4zM413.6 1468.4h4v4h-4zM383.5 1472.5h4v4h-4zM391.0 1472.5h4v4h-4zM398.5 1472.5h4v4h-4zM391.0 1481.1h4v4h-4zM398.5 1482.8h4v4h-4zM391.0 1486.2h4v4h-4zM398.5 1487.9h4v4h-4zM383.5 1491.4h4v4h-4zM398.5 1491.4h4v4h-4zM391.0 1494.8h4v4h-4zM398.5 1494.8h4v4h-4z"/>
<path fill="#bd16f0" d="M627.3 1205.4h4v4h-4zM627.3 1210.5h4v4h-4zM627.3 1243.1h4v4h-4zM623.5 1289.0h4v4h-4zM631.1 1289.0h4v4h-4zM627.3 1303.3h4v4h-4zM627.3 1317.4h4v4h-4zM627.3 1324.6h4v4h-4zM623.5 1336.2h4v4h-4zM631.1 1338.3h4v4h-4zM638.6 1335.5h4v4h-4zM616.0 1346.5h4v4h-4zM631.1 1344.1h4v4h-4zM623.5 1348.5h4v4h-4zM631.1 1349.9h4v4h-4zM638.6 1350.6h4v4h-4zM616.0 1356.8h4v4h-4zM623.5 1356.1h4v4h-4zM631.1 1356.8h4v4h-4zM638.6 1356.8h4v4h-4zM627.3 1369.1h4v4h-4zM619.8 1373.9h4v4h-4zM627.3 1373.9h4v4h-4zM634.8 1374.6h4v4h-4zM627.3 1378.7h4v4h-4zM627.3 1396.5h4v4h-4zM623.5 1404.0h4v4h-4zM631.1 1402.3h4v4h-4zM627.3 1410.9h4v4h-4zM627.3 1415.0h4v4h-4zM623.5 1418.4h4v4h-4zM631.1 1421.2h4v4h-4zM627.3 1426.3h4v4h-4zM623.5 1433.1h4v4h-4zM631.1 1434.2h4v4h-4zM638.6 1433.1h4v4h-4zM627.3 1448.5h4v4h-4zM627.3 1457.1h4v4h-4zM627.3 1474.2h4v4h-4z"/>
<line x1="319.0" y1="1434.3" x2="473.7" y2="1434.3" stroke="#0c0c0c" stroke-width="2.4"/>
<line x1="552.0" y1="1360.4" x2="706.0" y2="1360.4" stroke="#0c0c0c" stroke-width="2.4"/>
<line x1="241.4" y1="1149.4" x2="241.4" y2="1514.3" stroke="#000" stroke-width="4.0"/>
<line x1="226.4" y1="1151.4" x2="241.4" y2="1151.4" stroke="#000" stroke-width="4.0"/>
<text transform="translate(110.36,1169.84) scale(0.9750,1)" font-size="51.5" font-weight="bold">8000</text>
<line x1="226.4" y1="1241.6" x2="241.4" y2="1241.6" stroke="#000" stroke-width="4.0"/>
<text transform="translate(110.36,1260.04) scale(0.9750,1)" font-size="51.5" font-weight="bold">6000</text>
<line x1="226.4" y1="1331.8" x2="241.4" y2="1331.8" stroke="#000" stroke-width="4.0"/>
<text transform="translate(110.36,1350.24) scale(0.9750,1)" font-size="51.5" font-weight="bold">4000</text>
<line x1="226.4" y1="1422.0" x2="241.4" y2="1422.0" stroke="#000" stroke-width="4.0"/>
<text transform="translate(110.36,1440.44) scale(0.9750,1)" font-size="51.5" font-weight="bold">2000</text>
<line x1="226.4" y1="1512.3" x2="241.4" y2="1512.3" stroke="#000" stroke-width="4.0"/>
<text transform="translate(194.13,1530.74) scale(0.9750,1)" font-size="51.5" font-weight="bold">0</text>
<line x1="239.4" y1="1512.3" x2="786.0" y2="1512.3" stroke="#000" stroke-width="4.0"/>
<line x1="396.0" y1="1512.3" x2="396.0" y2="1526.3" stroke="#000" stroke-width="4.0"/>
<line x1="629.0" y1="1512.3" x2="629.0" y2="1526.3" stroke="#000" stroke-width="4.0"/>
<text transform="translate(280.93,1572.00) scale(0.9532,1)" font-size="52.0">HPV-ve</text>
<text transform="translate(536.09,1572.00) scale(0.9636,1)" font-size="52.0">HPV +ve</text>
<text transform="translate(87.40,1576.97) rotate(-90) scale(0.9797,1)" font-size="61.5" font-weight="bold">mRNA expression</text>
</g>
<g id="A4">
<text transform="translate(1029.52,975.00) scale(0.9669,1)" font-size="59.0">HPV-ve vs. HPV+ve</text>
<text transform="translate(1030.80,1038.30) scale(0.9646,1)" font-size="59.0">Oropharyngeal cancer</text>
<text transform="translate(1232.87,1159.90) scale(0.9414,1)" font-size="45.0">p&lt;0.0004</text>
<line x1="1218.0" y1="1177.0" x2="1427.0" y2="1177.0" stroke="#585858" stroke-width="3.8"/>
<path fill="#0cba0c" d="M1200.7 1345.8h4v4h-4zM1208.3 1346.5h4v4h-4zM1204.5 1401.6h4v4h-4zM1204.5 1419.4h4v4h-4zM1204.5 1433.1h4v4h-4zM1204.5 1441.0h4v4h-4zM1204.5 1449.9h4v4h-4z"/>
<path fill="#bd16f0" d="M1424.0 1202.0h4v4h-4zM1424.0 1206.1h4v4h-4zM1424.0 1236.9h4v4h-4zM1420.3 1280.1h4v4h-4zM1427.8 1280.1h4v4h-4zM1424.0 1293.4h4v4h-4zM1424.0 1306.4h4v4h-4zM1424.0 1313.3h4v4h-4zM1420.3 1324.6h4v4h-4zM1427.8 1323.9h4v4h-4zM1420.3 1331.4h4v4h-4zM1413.1 1336.2h4v4h-4zM1420.3 1337.6h4v4h-4zM1427.8 1336.9h4v4h-4zM1435.0 1334.8h4v4h-4zM1413.1 1343.8h4v4h-4zM1420.3 1344.4h4v4h-4zM1427.8 1345.1h4v4h-4zM1424.0 1355.4h4v4h-4zM1420.3 1361.2h4v4h-4zM1427.8 1361.2h4v4h-4zM1435.0 1360.2h4v4h-4zM1424.0 1365.7h4v4h-4zM1424.0 1381.8h4v4h-4zM1427.8 1386.2h4v4h-4zM1420.3 1389.6h4v4h-4zM1424.0 1394.4h4v4h-4zM1424.0 1398.9h4v4h-4zM1427.8 1402.3h4v4h-4zM1420.3 1404.7h4v4h-4zM1424.0 1410.2h4v4h-4zM1420.3 1416.7h4v4h-4zM1427.8 1418.4h4v4h-4zM1424.0 1439.0h4v4h-4z"/>
<line x1="1134.8" y1="1420.7" x2="1279.0" y2="1420.7" stroke="#545454" stroke-width="3.8"/>
<line x1="1353.0" y1="1346.0" x2="1498.7" y2="1346.0" stroke="#545454" stroke-width="3.8"/>
<line x1="1060.3" y1="1147.5" x2="1060.3" y2="1493.3" stroke="#000" stroke-width="4.0"/>
<line x1="1046.3" y1="1149.5" x2="1060.3" y2="1149.5" stroke="#000" stroke-width="4.0"/>
<text transform="translate(940.32,1166.86) scale(0.9450,1)" font-size="48.5" font-weight="bold">8000</text>
<line x1="1046.3" y1="1235.0" x2="1060.3" y2="1235.0" stroke="#000" stroke-width="4.0"/>
<text transform="translate(940.32,1252.36) scale(0.9450,1)" font-size="48.5" font-weight="bold">6000</text>
<line x1="1046.3" y1="1320.5" x2="1060.3" y2="1320.5" stroke="#000" stroke-width="4.0"/>
<text transform="translate(940.32,1337.86) scale(0.9450,1)" font-size="48.5" font-weight="bold">4000</text>
<line x1="1046.3" y1="1406.0" x2="1060.3" y2="1406.0" stroke="#000" stroke-width="4.0"/>
<text transform="translate(940.32,1423.36) scale(0.9450,1)" font-size="48.5" font-weight="bold">2000</text>
<line x1="1046.3" y1="1491.3" x2="1060.3" y2="1491.3" stroke="#000" stroke-width="4.0"/>
<text transform="translate(1016.79,1508.66) scale(0.9450,1)" font-size="48.5" font-weight="bold">0</text>
<line x1="1058.3" y1="1491.3" x2="1574.5" y2="1491.3" stroke="#000" stroke-width="4.0"/>
<line x1="1206.7" y1="1491.3" x2="1206.7" y2="1505.3" stroke="#000" stroke-width="4.0"/>
<line x1="1425.5" y1="1491.3" x2="1425.5" y2="1505.3" stroke="#000" stroke-width="4.0"/>
<text transform="translate(1097.67,1547.00) scale(0.9531,1)" font-size="49.0">HPV-ve</text>
<text transform="translate(1338.32,1547.00) scale(0.9643,1)" font-size="49.0">HPV +ve</text>
<text transform="translate(914.60,1552.75) rotate(-90) scale(0.9482,1)" font-size="60.0" font-weight="bold">mRNA expression</text>
</g>
<g id="B1">
<text transform="translate(322.25,1876.60) scale(1.0329,1)" font-size="62.0">Cervical cancer</text>
<text transform="translate(430.88,1976.30) scale(0.9972,1)" font-size="48.5">p&lt;0.0001</text>
<line x1="398.0" y1="1990.7" x2="645.0" y2="1990.7" stroke="#505050" stroke-width="3.5"/>
<path fill="#bd16f0" d="M638.5 2130.7h3v3h-3zM643.8 2126.0h3v3h-3zM643.8 2129.8h3v3h-3zM649.1 2130.4h3v3h-3z"/>
<path fill="#bd16f0" d="M638.5 2210.1h3v3h-3zM643.8 2183.7h3v3h-3zM643.8 2189.7h3v3h-3zM643.8 2195.5h3v3h-3zM643.8 2211.9h3v3h-3zM643.8 2217.1h3v3h-3zM643.8 2226.3h3v3h-3zM643.8 2232.4h3v3h-3zM649.1 2192.8h3v3h-3zM649.1 2199.7h3v3h-3zM649.1 2209.0h3v3h-3zM649.1 2214.8h3v3h-3zM649.1 2221.1h3v3h-3zM649.1 2225.8h3v3h-3z"/>
<path fill="#bd16f0" d="M617.3 2267.8h3v3h-3zM617.3 2271.7h3v3h-3zM617.3 2275.5h3v3h-3zM622.6 2266.9h3v3h-3zM622.6 2271.8h3v3h-3zM627.9 2245.6h3v3h-3zM627.9 2249.7h3v3h-3zM627.9 2256.9h3v3h-3zM627.9 2261.3h3v3h-3zM627.9 2265.0h3v3h-3zM627.9 2267.8h3v3h-3zM633.2 2245.2h3v3h-3zM633.2 2253.6h3v3h-3zM633.2 2255.9h3v3h-3zM633.2 2259.9h3v3h-3zM633.2 2263.3h3v3h-3zM633.2 2267.2h3v3h-3zM633.2 2275.7h3v3h-3zM638.5 2248.3h3v3h-3zM638.5 2252.4h3v3h-3zM638.5 2256.2h3v3h-3zM638.5 2260.8h3v3h-3zM638.5 2263.9h3v3h-3zM638.5 2267.5h3v3h-3zM643.8 2244.8h3v3h-3zM643.8 2252.7h3v3h-3zM643.8 2256.4h3v3h-3zM643.8 2259.5h3v3h-3zM643.8 2263.4h3v3h-3zM643.8 2267.1h3v3h-3zM643.8 2274.1h3v3h-3zM649.1 2243.8h3v3h-3zM649.1 2248.4h3v3h-3zM649.1 2251.9h3v3h-3zM649.1 2255.7h3v3h-3zM649.1 2262.9h3v3h-3zM649.1 2265.8h3v3h-3zM649.1 2270.2h3v3h-3zM649.1 2274.0h3v3h-3zM654.4 2248.0h3v3h-3zM654.4 2258.8h3v3h-3zM654.4 2269.9h3v3h-3zM654.4 2273.2h3v3h-3zM659.7 2242.9h3v3h-3zM659.7 2257.4h3v3h-3zM659.7 2261.1h3v3h-3zM659.7 2265.7h3v3h-3zM659.7 2273.1h3v3h-3zM665.0 2267.1h3v3h-3zM665.0 2270.3h3v3h-3zM665.0 2273.6h3v3h-3zM670.3 2271.3h3v3h-3zM670.3 2274.3h3v3h-3zM675.6 2270.2h3v3h-3zM675.6 2274.1h3v3h-3z"/>
<path fill="#bd16f0" d="M564.3 2372.7h3v3h-3zM569.6 2367.3h3v3h-3zM569.6 2373.7h3v3h-3zM569.6 2382.2h3v3h-3zM569.6 2385.3h3v3h-3zM574.9 2367.2h3v3h-3zM574.9 2369.7h3v3h-3zM574.9 2378.5h3v3h-3zM574.9 2381.3h3v3h-3zM574.9 2385.9h3v3h-3zM580.2 2374.7h3v3h-3zM580.2 2379.0h3v3h-3zM580.2 2382.9h3v3h-3zM580.2 2387.0h3v3h-3zM585.5 2366.9h3v3h-3zM585.5 2370.5h3v3h-3zM585.5 2373.5h3v3h-3zM585.5 2377.7h3v3h-3zM585.5 2380.8h3v3h-3zM585.5 2384.7h3v3h-3zM590.8 2364.9h3v3h-3zM590.8 2367.7h3v3h-3zM590.8 2372.2h3v3h-3zM590.8 2376.1h3v3h-3zM590.8 2380.1h3v3h-3zM590.8 2383.5h3v3h-3zM596.1 2364.9h3v3h-3zM596.1 2369.6h3v3h-3zM596.1 2373.6h3v3h-3zM596.1 2376.8h3v3h-3zM596.1 2380.5h3v3h-3zM596.1 2384.5h3v3h-3zM601.4 2370.4h3v3h-3zM601.4 2377.0h3v3h-3zM601.4 2380.8h3v3h-3zM601.4 2384.8h3v3h-3zM606.7 2365.1h3v3h-3zM606.7 2369.1h3v3h-3zM606.7 2372.4h3v3h-3zM606.7 2375.9h3v3h-3zM606.7 2379.8h3v3h-3zM606.7 2383.4h3v3h-3zM612.0 2351.7h3v3h-3zM612.0 2355.5h3v3h-3zM612.0 2361.6h3v3h-3zM612.0 2366.0h3v3h-3zM612.0 2369.7h3v3h-3zM612.0 2372.8h3v3h-3zM612.0 2377.6h3v3h-3zM612.0 2380.6h3v3h-3zM612.0 2384.3h3v3h-3zM617.3 2321.2h3v3h-3zM617.3 2324.0h3v3h-3zM617.3 2328.0h3v3h-3zM617.3 2335.3h3v3h-3zM617.3 2338.9h3v3h-3zM617.3 2342.3h3v3h-3zM617.3 2346.7h3v3h-3zM617.3 2350.4h3v3h-3zM617.3 2353.4h3v3h-3zM617.3 2357.0h3v3h-3zM617.3 2361.2h3v3h-3zM617.3 2364.8h3v3h-3zM617.3 2368.9h3v3h-3zM617.3 2372.3h3v3h-3zM617.3 2384.4h3v3h-3zM622.6 2319.2h3v3h-3zM622.6 2322.9h3v3h-3zM622.6 2325.5h3v3h-3zM622.6 2329.2h3v3h-3zM622.6 2333.4h3v3h-3zM622.6 2337.9h3v3h-3zM622.6 2340.3h3v3h-3zM622.6 2345.2h3v3h-3zM622.6 2348.7h3v3h-3zM622.6 2352.7h3v3h-3zM622.6 2356.3h3v3h-3zM622.6 2359.0h3v3h-3zM622.6 2362.6h3v3h-3zM622.6 2366.2h3v3h-3zM622.6 2369.9h3v3h-3zM622.6 2374.1h3v3h-3zM622.6 2378.1h3v3h-3zM622.6 2381.3h3v3h-3zM622.6 2384.5h3v3h-3zM627.9 2305.0h3v3h-3zM627.9 2308.3h3v3h-3zM627.9 2312.3h3v3h-3zM627.9 2320.2h3v3h-3zM627.9 2324.1h3v3h-3zM627.9 2326.5h3v3h-3zM627.9 2331.5h3v3h-3zM627.9 2334.7h3v3h-3zM627.9 2342.8h3v3h-3zM627.9 2345.4h3v3h-3zM627.9 2349.5h3v3h-3zM627.9 2353.7h3v3h-3zM627.9 2357.2h3v3h-3zM627.9 2360.9h3v3h-3zM627.9 2364.7h3v3h-3zM627.9 2367.6h3v3h-3zM627.9 2371.5h3v3h-3zM627.9 2379.3h3v3h-3zM627.9 2383.4h3v3h-3zM627.9 2387.0h3v3h-3zM633.2 2306.3h3v3h-3zM633.2 2311.3h3v3h-3zM633.2 2314.6h3v3h-3zM633.2 2317.2h3v3h-3zM633.2 2321.2h3v3h-3zM633.2 2329.1h3v3h-3zM633.2 2337.3h3v3h-3zM633.2 2350.8h3v3h-3zM633.2 2354.4h3v3h-3zM633.2 2358.6h3v3h-3zM633.2 2362.7h3v3h-3zM633.2 2366.4h3v3h-3zM633.2 2370.3h3v3h-3zM633.2 2372.7h3v3h-3zM633.2 2376.5h3v3h-3zM633.2 2381.3h3v3h-3zM633.2 2384.7h3v3h-3zM638.5 2303.4h3v3h-3zM638.5 2308.3h3v3h-3zM638.5 2310.7h3v3h-3zM638.5 2315.2h3v3h-3zM638.5 2318.9h3v3h-3zM638.5 2322.2h3v3h-3zM638.5 2325.5h3v3h-3zM638.5 2329.5h3v3h-3zM638.5 2333.3h3v3h-3zM638.5 2341.2h3v3h-3zM638.5 2345.3h3v3h-3zM638.5 2348.4h3v3h-3zM638.5 2352.0h3v3h-3zM638.5 2355.4h3v3h-3zM638.5 2362.8h3v3h-3zM638.5 2366.6h3v3h-3zM638.5 2369.8h3v3h-3zM638.5 2377.0h3v3h-3zM638.5 2381.7h3v3h-3zM638.5 2385.2h3v3h-3zM643.8 2304.1h3v3h-3zM643.8 2314.9h3v3h-3zM643.8 2319.3h3v3h-3zM643.8 2322.5h3v3h-3zM643.8 2326.3h3v3h-3zM643.8 2329.5h3v3h-3zM643.8 2334.5h3v3h-3zM643.8 2337.3h3v3h-3zM643.8 2340.5h3v3h-3zM643.8 2345.5h3v3h-3zM643.8 2352.3h3v3h-3zM643.8 2359.4h3v3h-3zM643.8 2363.8h3v3h-3zM643.8 2367.1h3v3h-3zM643.8 2374.9h3v3h-3zM643.8 2382.4h3v3h-3zM643.8 2384.7h3v3h-3zM649.1 2307.1h3v3h-3zM649.1 2309.5h3v3h-3zM649.1 2313.5h3v3h-3zM649.1 2317.5h3v3h-3zM649.1 2322.1h3v3h-3zM649.1 2324.7h3v3h-3zM649.1 2333.2h3v3h-3zM649.1 2336.8h3v3h-3zM649.1 2339.7h3v3h-3zM649.1 2343.6h3v3h-3zM649.1 2346.8h3v3h-3zM649.1 2353.9h3v3h-3zM649.1 2358.7h3v3h-3zM649.1 2361.9h3v3h-3zM649.1 2366.5h3v3h-3zM649.1 2373.4h3v3h-3zM649.1 2377.2h3v3h-3zM649.1 2381.3h3v3h-3zM649.1 2384.8h3v3h-3zM654.4 2304.8h3v3h-3zM654.4 2308.3h3v3h-3zM654.4 2312.3h3v3h-3zM654.4 2320.6h3v3h-3zM654.4 2323.3h3v3h-3zM654.4 2327.1h3v3h-3zM654.4 2330.8h3v3h-3zM654.4 2334.8h3v3h-3zM654.4 2339.1h3v3h-3zM654.4 2345.3h3v3h-3zM654.4 2349.8h3v3h-3zM654.4 2352.7h3v3h-3zM654.4 2360.0h3v3h-3zM654.4 2363.9h3v3h-3zM654.4 2371.4h3v3h-3zM654.4 2376.2h3v3h-3zM654.4 2382.3h3v3h-3zM654.4 2387.2h3v3h-3zM659.7 2306.3h3v3h-3zM659.7 2310.3h3v3h-3zM659.7 2318.2h3v3h-3zM659.7 2322.3h3v3h-3zM659.7 2326.0h3v3h-3zM659.7 2329.2h3v3h-3zM659.7 2332.1h3v3h-3zM659.7 2336.5h3v3h-3zM659.7 2339.7h3v3h-3zM659.7 2344.4h3v3h-3zM659.7 2347.7h3v3h-3zM659.7 2355.7h3v3h-3zM659.7 2358.6h3v3h-3zM659.7 2362.0h3v3h-3zM659.7 2366.6h3v3h-3zM659.7 2369.7h3v3h-3zM659.7 2374.0h3v3h-3zM659.7 2380.7h3v3h-3zM659.7 2384.5h3v3h-3zM665.0 2322.5h3v3h-3zM665.0 2326.1h3v3h-3zM665.0 2329.6h3v3h-3zM665.0 2333.1h3v3h-3zM665.0 2338.2h3v3h-3zM665.0 2340.5h3v3h-3zM665.0 2345.6h3v3h-3zM665.0 2348.8h3v3h-3zM665.0 2352.8h3v3h-3zM665.0 2355.6h3v3h-3zM665.0 2363.6h3v3h-3zM665.0 2373.8h3v3h-3zM665.0 2377.6h3v3h-3zM665.0 2382.3h3v3h-3zM665.0 2385.0h3v3h-3zM670.3 2328.0h3v3h-3zM670.3 2334.8h3v3h-3zM670.3 2339.0h3v3h-3zM670.3 2345.8h3v3h-3zM670.3 2349.5h3v3h-3zM670.3 2354.2h3v3h-3zM670.3 2360.7h3v3h-3zM670.3 2364.6h3v3h-3zM670.3 2368.4h3v3h-3zM670.3 2372.3h3v3h-3zM670.3 2376.6h3v3h-3zM670.3 2379.8h3v3h-3zM670.3 2383.0h3v3h-3zM675.6 2349.1h3v3h-3zM675.6 2353.2h3v3h-3zM675.6 2360.1h3v3h-3zM675.6 2363.1h3v3h-3zM675.6 2367.3h3v3h-3zM675.6 2370.4h3v3h-3zM675.6 2374.7h3v3h-3zM675.6 2378.3h3v3h-3zM675.6 2385.2h3v3h-3zM680.9 2364.2h3v3h-3zM680.9 2366.7h3v3h-3zM680.9 2371.1h3v3h-3zM680.9 2379.3h3v3h-3zM680.9 2382.3h3v3h-3zM680.9 2386.6h3v3h-3zM686.2 2366.7h3v3h-3zM686.2 2371.0h3v3h-3zM686.2 2374.6h3v3h-3zM686.2 2378.6h3v3h-3zM686.2 2380.9h3v3h-3zM686.2 2384.8h3v3h-3zM691.5 2364.1h3v3h-3zM691.5 2368.2h3v3h-3zM691.5 2371.1h3v3h-3zM691.5 2375.4h3v3h-3zM691.5 2378.5h3v3h-3zM691.5 2382.6h3v3h-3zM691.5 2386.6h3v3h-3zM696.8 2365.2h3v3h-3zM696.8 2372.2h3v3h-3zM696.8 2379.3h3v3h-3zM702.1 2366.9h3v3h-3zM702.1 2371.5h3v3h-3zM702.1 2375.6h3v3h-3zM702.1 2378.1h3v3h-3zM702.1 2383.1h3v3h-3zM702.1 2385.7h3v3h-3zM707.4 2363.9h3v3h-3zM707.4 2368.4h3v3h-3zM707.4 2372.3h3v3h-3zM707.4 2378.7h3v3h-3zM707.4 2382.5h3v3h-3zM712.7 2367.8h3v3h-3zM712.7 2372.1h3v3h-3zM712.7 2376.1h3v3h-3zM712.7 2379.3h3v3h-3zM712.7 2382.6h3v3h-3zM718.0 2365.2h3v3h-3zM718.0 2372.5h3v3h-3zM718.0 2380.3h3v3h-3zM718.0 2384.2h3v3h-3zM723.3 2365.1h3v3h-3zM723.3 2376.3h3v3h-3zM723.3 2379.9h3v3h-3zM723.3 2384.4h3v3h-3z"/>
<path fill="#bd16f0" d="M643.8 2059.5h3v3h-3zM612.0 2136.8h3v3h-3zM617.3 2135.7h3v3h-3zM622.6 2136.4h3v3h-3zM627.9 2136.8h3v3h-3zM633.2 2135.7h3v3h-3zM638.5 2136.4h3v3h-3zM643.8 2136.8h3v3h-3zM649.1 2135.7h3v3h-3zM654.4 2136.4h3v3h-3zM659.7 2136.8h3v3h-3zM665.0 2135.7h3v3h-3zM670.3 2136.4h3v3h-3zM675.6 2136.8h3v3h-3zM612.0 2273.1h3v3h-3zM617.3 2273.5h3v3h-3zM622.6 2272.4h3v3h-3zM627.9 2273.1h3v3h-3zM633.2 2273.5h3v3h-3zM638.5 2272.4h3v3h-3zM643.8 2273.1h3v3h-3zM649.1 2273.5h3v3h-3zM654.4 2272.4h3v3h-3zM659.7 2273.1h3v3h-3zM665.0 2273.5h3v3h-3zM670.3 2272.4h3v3h-3zM675.6 2273.1h3v3h-3z"/>
<line x1="317.7" y1="2386.8" x2="481.4" y2="2386.8" stroke="#444444" stroke-width="3.0"/>
<line x1="563.5" y1="2349.0" x2="727.0" y2="2349.0" stroke="#444444" stroke-width="3.0"/>
<path fill="#0cba0c" d="M389.8 2384.9h3.4v3.4h-3.4zM397.5 2384.9h3.4v3.4h-3.4zM405.3 2384.9h3.4v3.4h-3.4z"/>
<line x1="235.7" y1="2030.0" x2="235.7" y2="2142.3" stroke="#000" stroke-width="4.0"/>
<line x1="235.7" y1="2167.7" x2="235.7" y2="2279.5" stroke="#000" stroke-width="4.0"/>
<line x1="235.7" y1="2304.5" x2="235.7" y2="2415.7" stroke="#000" stroke-width="4.0"/>
<line x1="225.7" y1="2140.3" x2="245.7" y2="2140.3" stroke="#000" stroke-width="4.0"/>
<line x1="225.7" y1="2169.7" x2="245.7" y2="2169.7" stroke="#000" stroke-width="4.0"/>
<line x1="225.7" y1="2277.5" x2="245.7" y2="2277.5" stroke="#000" stroke-width="4.0"/>
<line x1="225.7" y1="2306.5" x2="245.7" y2="2306.5" stroke="#000" stroke-width="4.0"/>
<line x1="219.7" y1="2032.0" x2="235.7" y2="2032.0" stroke="#000" stroke-width="4.0"/>
<text transform="translate(96.85,2051.33) scale(0.9850,1)" font-size="54.0" font-weight="bold">2000</text>
<line x1="219.7" y1="2089.0" x2="235.7" y2="2089.0" stroke="#000" stroke-width="4.0"/>
<text transform="translate(96.85,2108.33) scale(0.9850,1)" font-size="54.0" font-weight="bold">1000</text>
<line x1="219.7" y1="2169.7" x2="235.7" y2="2169.7" stroke="#000" stroke-width="4.0"/>
<text transform="translate(126.44,2189.03) scale(0.9850,1)" font-size="54.0" font-weight="bold">100</text>
<line x1="219.7" y1="2246.3" x2="235.7" y2="2246.3" stroke="#000" stroke-width="4.0"/>
<text transform="translate(156.02,2265.63) scale(0.9850,1)" font-size="54.0" font-weight="bold">50</text>
<line x1="219.7" y1="2306.5" x2="235.7" y2="2306.5" stroke="#000" stroke-width="4.0"/>
<text transform="translate(156.02,2325.83) scale(0.9850,1)" font-size="54.0" font-weight="bold">30</text>
<line x1="219.7" y1="2346.5" x2="235.7" y2="2346.5" stroke="#000" stroke-width="4.0"/>
<text transform="translate(155.32,2365.83) scale(0.9850,1)" font-size="54.0" font-weight="bold">15</text>
<line x1="219.7" y1="2387.2" x2="235.7" y2="2387.2" stroke="#000" stroke-width="4.0"/>
<text transform="translate(185.60,2406.53) scale(0.9850,1)" font-size="54.0" font-weight="bold">0</text>
<line x1="233.7" y1="2413.7" x2="810.7" y2="2413.7" stroke="#000" stroke-width="4.0"/>
<line x1="398.0" y1="2413.7" x2="398.0" y2="2427.7" stroke="#000" stroke-width="4.0"/>
<line x1="645.0" y1="2413.7" x2="645.0" y2="2427.7" stroke="#000" stroke-width="4.0"/>
<text transform="translate(276.30,2476.00) scale(1.0155,1)" font-size="52.0">Solid tissue</text>
<text transform="translate(320.00,2535.00) scale(1.0131,1)" font-size="52.0">normal</text>
<text transform="translate(574.68,2476.00) scale(1.0129,1)" font-size="52.0">Primary</text>
<text transform="translate(569.71,2535.00) scale(1.0056,1)" font-size="52.0">tumor</text>
<text transform="translate(72.20,2481.89) rotate(-90) scale(1.0008,1)" font-size="63.5" font-weight="bold">mRNA expression</text>
</g>
<g id="B2">
<text transform="translate(1246.27,1882.00) scale(0.9807,1)" font-size="65.0">HNSCC</text>
<text transform="translate(1270.86,1970.80) scale(1.0263,1)" font-size="47.5">p&lt;0.0001</text>
<line x1="1238.8" y1="1985.0" x2="1486.0" y2="1985.0" stroke="#161616" stroke-width="2.4"/>
<path fill="#bd16f0" d="M1438.1 2211.6h3.3v3.3h-3.3zM1439.2 2213.9h3.3v3.3h-3.3zM1441.6 2209.3h3.3v3.3h-3.3zM1441.6 2212.8h3.3v3.3h-3.3zM1441.6 2216.0h3.3v3.3h-3.3zM1446.0 2210.8h3.3v3.3h-3.3zM1445.0 2214.6h3.3v3.3h-3.3zM1448.4 2209.5h3.3v3.3h-3.3zM1449.5 2212.6h3.3v3.3h-3.3zM1449.8 2215.4h3.3v3.3h-3.3zM1452.7 2210.3h3.3v3.3h-3.3zM1452.9 2212.2h3.3v3.3h-3.3zM1452.2 2215.6h3.3v3.3h-3.3zM1455.7 2208.8h3.3v3.3h-3.3zM1455.8 2211.5h3.3v3.3h-3.3zM1456.7 2215.5h3.3v3.3h-3.3zM1459.9 2209.3h3.3v3.3h-3.3zM1460.3 2213.4h3.3v3.3h-3.3zM1459.8 2217.0h3.3v3.3h-3.3zM1462.3 2210.1h3.3v3.3h-3.3zM1462.6 2214.4h3.3v3.3h-3.3zM1466.8 2207.3h3.3v3.3h-3.3zM1466.2 2213.6h3.3v3.3h-3.3zM1470.2 2180.6h3.3v3.3h-3.3zM1469.6 2194.0h3.3v3.3h-3.3zM1469.4 2195.8h3.3v3.3h-3.3zM1470.3 2200.3h3.3v3.3h-3.3zM1469.4 2202.9h3.3v3.3h-3.3zM1470.8 2210.3h3.3v3.3h-3.3zM1470.4 2213.3h3.3v3.3h-3.3zM1469.7 2216.5h3.3v3.3h-3.3zM1473.5 2179.2h3.3v3.3h-3.3zM1473.2 2181.8h3.3v3.3h-3.3zM1474.2 2195.6h3.3v3.3h-3.3zM1473.8 2198.5h3.3v3.3h-3.3zM1474.0 2201.7h3.3v3.3h-3.3zM1473.6 2204.1h3.3v3.3h-3.3zM1472.8 2208.9h3.3v3.3h-3.3zM1474.1 2211.2h3.3v3.3h-3.3zM1474.2 2215.5h3.3v3.3h-3.3zM1476.4 2178.8h3.3v3.3h-3.3zM1476.5 2181.7h3.3v3.3h-3.3zM1476.7 2185.6h3.3v3.3h-3.3zM1476.6 2188.4h3.3v3.3h-3.3zM1476.7 2195.7h3.3v3.3h-3.3zM1477.0 2198.3h3.3v3.3h-3.3zM1476.6 2201.3h3.3v3.3h-3.3zM1476.6 2204.4h3.3v3.3h-3.3zM1477.3 2207.7h3.3v3.3h-3.3zM1476.4 2214.3h3.3v3.3h-3.3zM1480.0 2181.1h3.3v3.3h-3.3zM1480.5 2184.1h3.3v3.3h-3.3zM1480.1 2186.3h3.3v3.3h-3.3zM1480.4 2190.2h3.3v3.3h-3.3zM1480.8 2194.3h3.3v3.3h-3.3zM1480.4 2196.6h3.3v3.3h-3.3zM1480.1 2199.7h3.3v3.3h-3.3zM1480.4 2203.1h3.3v3.3h-3.3zM1481.2 2206.7h3.3v3.3h-3.3zM1480.6 2209.3h3.3v3.3h-3.3zM1483.5 2187.5h3.3v3.3h-3.3zM1483.9 2190.1h3.3v3.3h-3.3zM1484.8 2193.7h3.3v3.3h-3.3zM1484.0 2197.3h3.3v3.3h-3.3zM1484.4 2206.8h3.3v3.3h-3.3zM1484.8 2210.7h3.3v3.3h-3.3zM1484.4 2213.2h3.3v3.3h-3.3zM1488.1 2179.5h3.3v3.3h-3.3zM1487.0 2186.8h3.3v3.3h-3.3zM1487.1 2189.4h3.3v3.3h-3.3zM1487.7 2196.8h3.3v3.3h-3.3zM1487.7 2199.9h3.3v3.3h-3.3zM1487.9 2206.1h3.3v3.3h-3.3zM1487.8 2209.5h3.3v3.3h-3.3zM1488.0 2212.4h3.3v3.3h-3.3zM1488.3 2217.2h3.3v3.3h-3.3zM1490.7 2179.1h3.3v3.3h-3.3zM1490.5 2188.8h3.3v3.3h-3.3zM1491.2 2192.4h3.3v3.3h-3.3zM1490.3 2195.4h3.3v3.3h-3.3zM1491.3 2198.9h3.3v3.3h-3.3zM1490.4 2200.9h3.3v3.3h-3.3zM1490.7 2205.0h3.3v3.3h-3.3zM1490.6 2208.3h3.3v3.3h-3.3zM1491.0 2212.0h3.3v3.3h-3.3zM1490.4 2214.6h3.3v3.3h-3.3zM1495.0 2179.3h3.3v3.3h-3.3zM1494.9 2182.4h3.3v3.3h-3.3zM1493.8 2194.9h3.3v3.3h-3.3zM1495.1 2205.6h3.3v3.3h-3.3zM1494.0 2208.5h3.3v3.3h-3.3zM1495.1 2216.0h3.3v3.3h-3.3zM1497.4 2179.3h3.3v3.3h-3.3zM1498.2 2194.8h3.3v3.3h-3.3zM1498.7 2207.8h3.3v3.3h-3.3zM1497.8 2212.5h3.3v3.3h-3.3zM1498.6 2215.6h3.3v3.3h-3.3zM1500.9 2209.3h3.3v3.3h-3.3zM1501.1 2212.5h3.3v3.3h-3.3zM1501.2 2215.8h3.3v3.3h-3.3zM1504.6 2208.3h3.3v3.3h-3.3zM1505.8 2211.5h3.3v3.3h-3.3zM1504.9 2216.0h3.3v3.3h-3.3zM1509.3 2212.4h3.3v3.3h-3.3zM1511.9 2209.1h3.3v3.3h-3.3zM1512.2 2212.0h3.3v3.3h-3.3zM1512.2 2214.9h3.3v3.3h-3.3zM1516.2 2210.3h3.3v3.3h-3.3zM1515.9 2213.8h3.3v3.3h-3.3zM1519.3 2208.8h3.3v3.3h-3.3zM1519.6 2212.7h3.3v3.3h-3.3zM1518.7 2215.5h3.3v3.3h-3.3zM1522.0 2209.1h3.3v3.3h-3.3zM1523.2 2216.0h3.3v3.3h-3.3zM1525.3 2211.8h3.3v3.3h-3.3zM1526.2 2215.7h3.3v3.3h-3.3zM1529.1 2212.6h3.3v3.3h-3.3z"/>
<path fill="#bd16f0" d="M1403.5 2334.5h3.3v3.3h-3.3zM1403.5 2340.1h3.3v3.3h-3.3zM1407.6 2333.5h3.3v3.3h-3.3zM1406.5 2340.5h3.3v3.3h-3.3zM1409.9 2331.4h3.3v3.3h-3.3zM1411.0 2334.8h3.3v3.3h-3.3zM1410.7 2337.8h3.3v3.3h-3.3zM1409.8 2342.0h3.3v3.3h-3.3zM1414.7 2331.5h3.3v3.3h-3.3zM1414.6 2334.9h3.3v3.3h-3.3zM1414.2 2345.1h3.3v3.3h-3.3zM1417.6 2331.9h3.3v3.3h-3.3zM1418.1 2335.4h3.3v3.3h-3.3zM1417.7 2338.0h3.3v3.3h-3.3zM1417.7 2342.3h3.3v3.3h-3.3zM1416.9 2344.8h3.3v3.3h-3.3zM1421.8 2335.3h3.3v3.3h-3.3zM1420.5 2337.7h3.3v3.3h-3.3zM1421.5 2344.4h3.3v3.3h-3.3zM1421.0 2347.6h3.3v3.3h-3.3zM1421.7 2352.4h3.3v3.3h-3.3zM1424.9 2342.3h3.3v3.3h-3.3zM1428.4 2327.5h3.3v3.3h-3.3zM1428.7 2331.3h3.3v3.3h-3.3zM1428.2 2334.4h3.3v3.3h-3.3zM1428.7 2337.8h3.3v3.3h-3.3zM1427.5 2340.9h3.3v3.3h-3.3zM1431.1 2330.4h3.3v3.3h-3.3zM1432.3 2333.7h3.3v3.3h-3.3zM1430.8 2336.7h3.3v3.3h-3.3zM1431.7 2340.8h3.3v3.3h-3.3zM1431.2 2353.4h3.3v3.3h-3.3zM1434.3 2324.9h3.3v3.3h-3.3zM1435.2 2327.4h3.3v3.3h-3.3zM1434.3 2331.0h3.3v3.3h-3.3zM1434.7 2333.9h3.3v3.3h-3.3zM1435.4 2337.3h3.3v3.3h-3.3zM1434.7 2341.4h3.3v3.3h-3.3zM1435.3 2343.7h3.3v3.3h-3.3zM1434.5 2347.2h3.3v3.3h-3.3zM1438.8 2326.6h3.3v3.3h-3.3zM1438.5 2330.9h3.3v3.3h-3.3zM1438.6 2334.1h3.3v3.3h-3.3zM1438.9 2336.8h3.3v3.3h-3.3zM1438.1 2340.8h3.3v3.3h-3.3zM1439.1 2343.6h3.3v3.3h-3.3zM1437.9 2347.3h3.3v3.3h-3.3zM1439.2 2350.6h3.3v3.3h-3.3zM1439.3 2353.5h3.3v3.3h-3.3zM1441.7 2321.1h3.3v3.3h-3.3zM1441.7 2324.2h3.3v3.3h-3.3zM1441.7 2327.2h3.3v3.3h-3.3zM1441.8 2334.8h3.3v3.3h-3.3zM1442.0 2337.4h3.3v3.3h-3.3zM1441.6 2340.9h3.3v3.3h-3.3zM1442.8 2343.8h3.3v3.3h-3.3zM1442.1 2346.8h3.3v3.3h-3.3zM1442.7 2351.3h3.3v3.3h-3.3zM1441.5 2354.9h3.3v3.3h-3.3zM1445.5 2328.0h3.3v3.3h-3.3zM1445.2 2331.2h3.3v3.3h-3.3zM1445.0 2337.7h3.3v3.3h-3.3zM1446.0 2340.1h3.3v3.3h-3.3zM1445.9 2343.6h3.3v3.3h-3.3zM1445.5 2347.0h3.3v3.3h-3.3zM1445.8 2349.8h3.3v3.3h-3.3zM1445.5 2354.2h3.3v3.3h-3.3zM1449.4 2320.0h3.3v3.3h-3.3zM1449.0 2323.7h3.3v3.3h-3.3zM1448.4 2326.0h3.3v3.3h-3.3zM1449.7 2330.1h3.3v3.3h-3.3zM1449.3 2332.4h3.3v3.3h-3.3zM1448.3 2339.7h3.3v3.3h-3.3zM1449.7 2343.5h3.3v3.3h-3.3zM1448.6 2346.5h3.3v3.3h-3.3zM1448.4 2349.1h3.3v3.3h-3.3zM1449.6 2353.0h3.3v3.3h-3.3zM1452.2 2311.7h3.3v3.3h-3.3zM1452.3 2318.6h3.3v3.3h-3.3zM1452.8 2322.0h3.3v3.3h-3.3zM1452.5 2324.9h3.3v3.3h-3.3zM1452.4 2328.5h3.3v3.3h-3.3zM1451.8 2331.8h3.3v3.3h-3.3zM1451.8 2334.7h3.3v3.3h-3.3zM1451.9 2337.8h3.3v3.3h-3.3zM1451.9 2341.4h3.3v3.3h-3.3zM1452.9 2344.5h3.3v3.3h-3.3zM1452.1 2348.2h3.3v3.3h-3.3zM1452.3 2350.5h3.3v3.3h-3.3zM1456.1 2295.2h3.3v3.3h-3.3zM1455.9 2299.5h3.3v3.3h-3.3zM1456.3 2302.6h3.3v3.3h-3.3zM1456.7 2315.4h3.3v3.3h-3.3zM1455.9 2318.3h3.3v3.3h-3.3zM1455.4 2322.5h3.3v3.3h-3.3zM1455.9 2325.2h3.3v3.3h-3.3zM1455.8 2331.9h3.3v3.3h-3.3zM1456.3 2335.2h3.3v3.3h-3.3zM1455.8 2338.6h3.3v3.3h-3.3zM1455.6 2341.5h3.3v3.3h-3.3zM1456.2 2345.1h3.3v3.3h-3.3zM1455.8 2349.5h3.3v3.3h-3.3zM1459.0 2287.5h3.3v3.3h-3.3zM1459.8 2293.2h3.3v3.3h-3.3zM1459.2 2297.6h3.3v3.3h-3.3zM1459.6 2300.3h3.3v3.3h-3.3zM1459.5 2303.3h3.3v3.3h-3.3zM1459.4 2310.2h3.3v3.3h-3.3zM1460.0 2316.4h3.3v3.3h-3.3zM1459.3 2320.4h3.3v3.3h-3.3zM1459.6 2323.5h3.3v3.3h-3.3zM1459.2 2330.3h3.3v3.3h-3.3zM1459.2 2333.8h3.3v3.3h-3.3zM1460.3 2337.3h3.3v3.3h-3.3zM1459.9 2339.4h3.3v3.3h-3.3zM1459.9 2346.2h3.3v3.3h-3.3zM1458.8 2350.4h3.3v3.3h-3.3zM1459.0 2353.1h3.3v3.3h-3.3zM1462.5 2277.3h3.3v3.3h-3.3zM1463.4 2280.2h3.3v3.3h-3.3zM1463.8 2287.2h3.3v3.3h-3.3zM1462.8 2290.0h3.3v3.3h-3.3zM1463.5 2296.8h3.3v3.3h-3.3zM1462.7 2300.2h3.3v3.3h-3.3zM1463.3 2303.8h3.3v3.3h-3.3zM1463.8 2307.3h3.3v3.3h-3.3zM1463.8 2311.3h3.3v3.3h-3.3zM1463.6 2314.1h3.3v3.3h-3.3zM1463.6 2317.7h3.3v3.3h-3.3zM1463.4 2324.2h3.3v3.3h-3.3zM1463.3 2326.8h3.3v3.3h-3.3zM1462.6 2333.5h3.3v3.3h-3.3zM1462.9 2336.6h3.3v3.3h-3.3zM1462.8 2340.2h3.3v3.3h-3.3zM1462.8 2342.9h3.3v3.3h-3.3zM1462.8 2346.6h3.3v3.3h-3.3zM1463.8 2349.6h3.3v3.3h-3.3zM1463.2 2352.7h3.3v3.3h-3.3zM1466.5 2268.4h3.3v3.3h-3.3zM1466.0 2270.4h3.3v3.3h-3.3zM1466.3 2281.8h3.3v3.3h-3.3zM1467.0 2284.8h3.3v3.3h-3.3zM1467.0 2287.4h3.3v3.3h-3.3zM1466.7 2294.8h3.3v3.3h-3.3zM1467.1 2297.3h3.3v3.3h-3.3zM1467.3 2300.7h3.3v3.3h-3.3zM1467.0 2303.9h3.3v3.3h-3.3zM1466.7 2306.8h3.3v3.3h-3.3zM1465.8 2313.4h3.3v3.3h-3.3zM1466.4 2317.8h3.3v3.3h-3.3zM1466.9 2324.0h3.3v3.3h-3.3zM1466.3 2327.6h3.3v3.3h-3.3zM1466.1 2329.8h3.3v3.3h-3.3zM1466.3 2333.8h3.3v3.3h-3.3zM1466.6 2336.5h3.3v3.3h-3.3zM1467.1 2340.3h3.3v3.3h-3.3zM1466.6 2347.3h3.3v3.3h-3.3zM1466.0 2351.0h3.3v3.3h-3.3zM1467.1 2353.4h3.3v3.3h-3.3zM1469.8 2248.8h3.3v3.3h-3.3zM1469.8 2255.2h3.3v3.3h-3.3zM1469.5 2261.2h3.3v3.3h-3.3zM1470.0 2264.6h3.3v3.3h-3.3zM1470.2 2268.1h3.3v3.3h-3.3zM1469.3 2271.2h3.3v3.3h-3.3zM1470.1 2277.5h3.3v3.3h-3.3zM1470.0 2281.7h3.3v3.3h-3.3zM1470.2 2284.3h3.3v3.3h-3.3zM1469.6 2287.2h3.3v3.3h-3.3zM1469.4 2291.4h3.3v3.3h-3.3zM1470.3 2294.1h3.3v3.3h-3.3zM1470.0 2296.7h3.3v3.3h-3.3zM1469.4 2301.3h3.3v3.3h-3.3zM1470.8 2304.4h3.3v3.3h-3.3zM1470.2 2307.6h3.3v3.3h-3.3zM1469.9 2311.1h3.3v3.3h-3.3zM1469.3 2314.6h3.3v3.3h-3.3zM1470.2 2318.0h3.3v3.3h-3.3zM1469.7 2320.3h3.3v3.3h-3.3zM1470.0 2323.1h3.3v3.3h-3.3zM1469.9 2333.6h3.3v3.3h-3.3zM1469.9 2337.6h3.3v3.3h-3.3zM1469.4 2343.8h3.3v3.3h-3.3zM1469.9 2346.5h3.3v3.3h-3.3zM1470.6 2353.7h3.3v3.3h-3.3zM1473.9 2249.1h3.3v3.3h-3.3zM1473.0 2251.5h3.3v3.3h-3.3zM1474.0 2257.8h3.3v3.3h-3.3zM1473.9 2262.2h3.3v3.3h-3.3zM1473.3 2265.4h3.3v3.3h-3.3zM1473.1 2267.8h3.3v3.3h-3.3zM1473.2 2272.2h3.3v3.3h-3.3zM1474.1 2275.3h3.3v3.3h-3.3zM1474.3 2282.1h3.3v3.3h-3.3zM1473.2 2284.3h3.3v3.3h-3.3zM1473.7 2289.0h3.3v3.3h-3.3zM1473.7 2294.8h3.3v3.3h-3.3zM1473.2 2298.1h3.3v3.3h-3.3zM1473.9 2301.1h3.3v3.3h-3.3zM1473.0 2310.9h3.3v3.3h-3.3zM1473.5 2314.5h3.3v3.3h-3.3zM1473.9 2317.1h3.3v3.3h-3.3zM1473.5 2321.2h3.3v3.3h-3.3zM1474.0 2324.3h3.3v3.3h-3.3zM1473.2 2327.8h3.3v3.3h-3.3zM1472.8 2334.8h3.3v3.3h-3.3zM1474.2 2337.0h3.3v3.3h-3.3zM1473.2 2341.8h3.3v3.3h-3.3zM1473.6 2343.9h3.3v3.3h-3.3zM1474.0 2347.3h3.3v3.3h-3.3zM1473.7 2350.2h3.3v3.3h-3.3zM1473.0 2354.0h3.3v3.3h-3.3zM1477.5 2247.0h3.3v3.3h-3.3zM1476.3 2249.2h3.3v3.3h-3.3zM1476.8 2253.3h3.3v3.3h-3.3zM1477.7 2257.1h3.3v3.3h-3.3zM1477.4 2260.6h3.3v3.3h-3.3zM1477.4 2267.0h3.3v3.3h-3.3zM1477.2 2273.8h3.3v3.3h-3.3zM1476.8 2277.2h3.3v3.3h-3.3zM1477.2 2279.5h3.3v3.3h-3.3zM1477.2 2283.5h3.3v3.3h-3.3zM1476.4 2285.6h3.3v3.3h-3.3zM1477.6 2289.8h3.3v3.3h-3.3zM1477.6 2292.1h3.3v3.3h-3.3zM1476.5 2295.9h3.3v3.3h-3.3zM1477.1 2299.2h3.3v3.3h-3.3zM1477.5 2303.3h3.3v3.3h-3.3zM1477.7 2306.1h3.3v3.3h-3.3zM1477.5 2309.5h3.3v3.3h-3.3zM1476.4 2313.2h3.3v3.3h-3.3zM1477.8 2315.6h3.3v3.3h-3.3zM1477.3 2319.6h3.3v3.3h-3.3zM1476.4 2326.4h3.3v3.3h-3.3zM1476.4 2328.9h3.3v3.3h-3.3zM1476.3 2333.3h3.3v3.3h-3.3zM1477.0 2338.3h3.3v3.3h-3.3zM1476.8 2342.9h3.3v3.3h-3.3zM1476.7 2346.1h3.3v3.3h-3.3zM1476.8 2352.6h3.3v3.3h-3.3zM1480.1 2245.5h3.3v3.3h-3.3zM1481.1 2249.1h3.3v3.3h-3.3zM1479.9 2255.5h3.3v3.3h-3.3zM1479.8 2262.9h3.3v3.3h-3.3zM1480.5 2269.8h3.3v3.3h-3.3zM1480.2 2273.0h3.3v3.3h-3.3zM1481.0 2275.1h3.3v3.3h-3.3zM1480.5 2279.1h3.3v3.3h-3.3zM1479.9 2281.7h3.3v3.3h-3.3zM1480.3 2289.4h3.3v3.3h-3.3zM1480.5 2291.8h3.3v3.3h-3.3zM1481.1 2295.7h3.3v3.3h-3.3zM1480.3 2299.2h3.3v3.3h-3.3zM1480.4 2305.0h3.3v3.3h-3.3zM1480.6 2309.2h3.3v3.3h-3.3zM1479.9 2322.4h3.3v3.3h-3.3zM1479.9 2325.5h3.3v3.3h-3.3zM1481.0 2328.2h3.3v3.3h-3.3zM1480.5 2331.1h3.3v3.3h-3.3zM1480.8 2334.9h3.3v3.3h-3.3zM1480.0 2338.9h3.3v3.3h-3.3zM1480.1 2342.2h3.3v3.3h-3.3zM1480.7 2345.1h3.3v3.3h-3.3zM1480.7 2348.3h3.3v3.3h-3.3zM1480.6 2351.7h3.3v3.3h-3.3zM1484.8 2242.6h3.3v3.3h-3.3zM1483.4 2246.1h3.3v3.3h-3.3zM1484.4 2256.4h3.3v3.3h-3.3zM1484.7 2259.2h3.3v3.3h-3.3zM1484.4 2263.1h3.3v3.3h-3.3zM1484.3 2269.7h3.3v3.3h-3.3zM1484.2 2272.3h3.3v3.3h-3.3zM1483.6 2275.1h3.3v3.3h-3.3zM1483.4 2280.0h3.3v3.3h-3.3zM1484.7 2282.5h3.3v3.3h-3.3zM1484.4 2285.1h3.3v3.3h-3.3zM1483.4 2288.4h3.3v3.3h-3.3zM1484.7 2292.8h3.3v3.3h-3.3zM1483.7 2295.5h3.3v3.3h-3.3zM1483.8 2298.8h3.3v3.3h-3.3zM1484.8 2301.8h3.3v3.3h-3.3zM1483.6 2306.4h3.3v3.3h-3.3zM1484.4 2311.9h3.3v3.3h-3.3zM1484.3 2314.7h3.3v3.3h-3.3zM1483.4 2329.0h3.3v3.3h-3.3zM1484.0 2335.0h3.3v3.3h-3.3zM1483.8 2338.1h3.3v3.3h-3.3zM1484.1 2342.2h3.3v3.3h-3.3zM1483.8 2345.2h3.3v3.3h-3.3zM1484.7 2348.9h3.3v3.3h-3.3zM1483.3 2351.7h3.3v3.3h-3.3zM1487.6 2244.4h3.3v3.3h-3.3zM1487.6 2247.5h3.3v3.3h-3.3zM1487.3 2251.7h3.3v3.3h-3.3zM1486.9 2258.2h3.3v3.3h-3.3zM1487.9 2264.7h3.3v3.3h-3.3zM1487.2 2266.8h3.3v3.3h-3.3zM1488.0 2273.7h3.3v3.3h-3.3zM1487.2 2277.6h3.3v3.3h-3.3zM1487.4 2281.0h3.3v3.3h-3.3zM1487.2 2283.9h3.3v3.3h-3.3zM1487.4 2287.0h3.3v3.3h-3.3zM1487.9 2290.7h3.3v3.3h-3.3zM1488.3 2296.6h3.3v3.3h-3.3zM1488.3 2300.3h3.3v3.3h-3.3zM1487.4 2303.4h3.3v3.3h-3.3zM1487.6 2313.6h3.3v3.3h-3.3zM1487.7 2317.0h3.3v3.3h-3.3zM1488.1 2320.6h3.3v3.3h-3.3zM1487.9 2323.8h3.3v3.3h-3.3zM1487.0 2326.3h3.3v3.3h-3.3zM1487.2 2330.8h3.3v3.3h-3.3zM1487.3 2336.5h3.3v3.3h-3.3zM1487.7 2339.9h3.3v3.3h-3.3zM1487.4 2343.0h3.3v3.3h-3.3zM1487.7 2346.1h3.3v3.3h-3.3zM1487.9 2349.6h3.3v3.3h-3.3zM1487.8 2353.0h3.3v3.3h-3.3zM1490.6 2245.0h3.3v3.3h-3.3zM1491.6 2248.4h3.3v3.3h-3.3zM1490.6 2252.3h3.3v3.3h-3.3zM1491.1 2255.4h3.3v3.3h-3.3zM1491.2 2258.0h3.3v3.3h-3.3zM1490.3 2261.4h3.3v3.3h-3.3zM1490.4 2264.8h3.3v3.3h-3.3zM1491.4 2268.2h3.3v3.3h-3.3zM1491.5 2275.1h3.3v3.3h-3.3zM1491.5 2279.0h3.3v3.3h-3.3zM1490.3 2282.3h3.3v3.3h-3.3zM1491.2 2284.9h3.3v3.3h-3.3zM1491.1 2288.5h3.3v3.3h-3.3zM1491.3 2292.2h3.3v3.3h-3.3zM1491.6 2294.2h3.3v3.3h-3.3zM1490.3 2298.2h3.3v3.3h-3.3zM1490.5 2302.2h3.3v3.3h-3.3zM1491.3 2304.2h3.3v3.3h-3.3zM1490.4 2308.5h3.3v3.3h-3.3zM1490.6 2311.7h3.3v3.3h-3.3zM1490.8 2315.0h3.3v3.3h-3.3zM1491.8 2317.3h3.3v3.3h-3.3zM1490.9 2320.9h3.3v3.3h-3.3zM1490.6 2324.5h3.3v3.3h-3.3zM1490.6 2327.7h3.3v3.3h-3.3zM1490.9 2331.0h3.3v3.3h-3.3zM1491.0 2333.6h3.3v3.3h-3.3zM1491.2 2338.0h3.3v3.3h-3.3zM1491.3 2341.7h3.3v3.3h-3.3zM1490.9 2344.6h3.3v3.3h-3.3zM1491.3 2348.0h3.3v3.3h-3.3zM1491.6 2351.3h3.3v3.3h-3.3zM1491.8 2354.2h3.3v3.3h-3.3zM1494.5 2243.6h3.3v3.3h-3.3zM1494.2 2246.5h3.3v3.3h-3.3zM1494.7 2249.8h3.3v3.3h-3.3zM1494.5 2253.4h3.3v3.3h-3.3zM1494.2 2260.3h3.3v3.3h-3.3zM1494.3 2263.5h3.3v3.3h-3.3zM1494.2 2266.3h3.3v3.3h-3.3zM1494.8 2272.0h3.3v3.3h-3.3zM1494.7 2275.9h3.3v3.3h-3.3zM1495.2 2282.3h3.3v3.3h-3.3zM1495.0 2286.6h3.3v3.3h-3.3zM1494.9 2289.1h3.3v3.3h-3.3zM1494.7 2293.0h3.3v3.3h-3.3zM1494.2 2295.8h3.3v3.3h-3.3zM1494.0 2298.8h3.3v3.3h-3.3zM1494.1 2302.5h3.3v3.3h-3.3zM1494.9 2306.6h3.3v3.3h-3.3zM1495.1 2309.8h3.3v3.3h-3.3zM1494.7 2315.8h3.3v3.3h-3.3zM1494.7 2318.8h3.3v3.3h-3.3zM1495.0 2322.3h3.3v3.3h-3.3zM1494.8 2325.7h3.3v3.3h-3.3zM1495.1 2334.9h3.3v3.3h-3.3zM1494.3 2338.7h3.3v3.3h-3.3zM1494.4 2345.9h3.3v3.3h-3.3zM1493.9 2348.3h3.3v3.3h-3.3zM1495.2 2352.1h3.3v3.3h-3.3zM1498.6 2247.4h3.3v3.3h-3.3zM1498.5 2254.5h3.3v3.3h-3.3zM1497.4 2258.1h3.3v3.3h-3.3zM1498.1 2264.9h3.3v3.3h-3.3zM1498.3 2267.6h3.3v3.3h-3.3zM1497.4 2275.1h3.3v3.3h-3.3zM1498.7 2277.4h3.3v3.3h-3.3zM1498.7 2287.5h3.3v3.3h-3.3zM1498.6 2291.3h3.3v3.3h-3.3zM1497.4 2294.9h3.3v3.3h-3.3zM1498.5 2307.0h3.3v3.3h-3.3zM1498.2 2310.6h3.3v3.3h-3.3zM1498.8 2314.1h3.3v3.3h-3.3zM1497.5 2317.2h3.3v3.3h-3.3zM1498.1 2324.6h3.3v3.3h-3.3zM1498.6 2327.1h3.3v3.3h-3.3zM1498.5 2331.2h3.3v3.3h-3.3zM1497.3 2333.5h3.3v3.3h-3.3zM1497.3 2336.7h3.3v3.3h-3.3zM1497.3 2340.2h3.3v3.3h-3.3zM1498.8 2347.3h3.3v3.3h-3.3zM1498.7 2354.3h3.3v3.3h-3.3zM1502.2 2264.1h3.3v3.3h-3.3zM1502.3 2273.1h3.3v3.3h-3.3zM1500.8 2279.4h3.3v3.3h-3.3zM1502.0 2284.0h3.3v3.3h-3.3zM1501.3 2287.4h3.3v3.3h-3.3zM1502.0 2290.8h3.3v3.3h-3.3zM1501.4 2293.9h3.3v3.3h-3.3zM1502.2 2295.8h3.3v3.3h-3.3zM1501.8 2302.6h3.3v3.3h-3.3zM1502.2 2306.3h3.3v3.3h-3.3zM1501.7 2313.4h3.3v3.3h-3.3zM1502.1 2315.8h3.3v3.3h-3.3zM1501.1 2319.5h3.3v3.3h-3.3zM1500.8 2323.3h3.3v3.3h-3.3zM1501.8 2325.5h3.3v3.3h-3.3zM1501.9 2329.1h3.3v3.3h-3.3zM1501.1 2332.2h3.3v3.3h-3.3zM1501.1 2339.4h3.3v3.3h-3.3zM1502.1 2343.6h3.3v3.3h-3.3zM1501.1 2345.7h3.3v3.3h-3.3zM1502.2 2348.9h3.3v3.3h-3.3zM1501.5 2352.3h3.3v3.3h-3.3zM1505.6 2279.1h3.3v3.3h-3.3zM1505.6 2282.2h3.3v3.3h-3.3zM1504.9 2289.5h3.3v3.3h-3.3zM1505.4 2292.5h3.3v3.3h-3.3zM1505.3 2295.2h3.3v3.3h-3.3zM1505.4 2298.3h3.3v3.3h-3.3zM1505.7 2301.7h3.3v3.3h-3.3zM1505.2 2304.9h3.3v3.3h-3.3zM1504.6 2308.7h3.3v3.3h-3.3zM1504.6 2315.2h3.3v3.3h-3.3zM1504.8 2319.0h3.3v3.3h-3.3zM1505.2 2325.2h3.3v3.3h-3.3zM1505.7 2328.1h3.3v3.3h-3.3zM1504.5 2332.1h3.3v3.3h-3.3zM1504.8 2334.6h3.3v3.3h-3.3zM1505.1 2344.8h3.3v3.3h-3.3zM1505.8 2348.8h3.3v3.3h-3.3zM1505.2 2350.8h3.3v3.3h-3.3zM1508.0 2286.4h3.3v3.3h-3.3zM1508.4 2299.6h3.3v3.3h-3.3zM1508.4 2302.9h3.3v3.3h-3.3zM1507.9 2306.5h3.3v3.3h-3.3zM1508.3 2309.5h3.3v3.3h-3.3zM1509.2 2313.9h3.3v3.3h-3.3zM1508.9 2316.0h3.3v3.3h-3.3zM1508.7 2320.2h3.3v3.3h-3.3zM1508.8 2323.9h3.3v3.3h-3.3zM1508.2 2326.8h3.3v3.3h-3.3zM1508.7 2329.5h3.3v3.3h-3.3zM1508.1 2333.8h3.3v3.3h-3.3zM1508.9 2336.7h3.3v3.3h-3.3zM1507.9 2339.9h3.3v3.3h-3.3zM1508.4 2342.8h3.3v3.3h-3.3zM1508.6 2349.0h3.3v3.3h-3.3zM1508.2 2352.4h3.3v3.3h-3.3zM1512.4 2298.4h3.3v3.3h-3.3zM1511.4 2300.8h3.3v3.3h-3.3zM1511.3 2304.6h3.3v3.3h-3.3zM1512.8 2313.6h3.3v3.3h-3.3zM1512.2 2316.9h3.3v3.3h-3.3zM1512.5 2320.4h3.3v3.3h-3.3zM1511.4 2324.4h3.3v3.3h-3.3zM1512.1 2327.3h3.3v3.3h-3.3zM1511.3 2333.7h3.3v3.3h-3.3zM1512.4 2347.8h3.3v3.3h-3.3zM1512.6 2353.1h3.3v3.3h-3.3zM1515.3 2306.1h3.3v3.3h-3.3zM1515.0 2308.0h3.3v3.3h-3.3zM1515.0 2311.2h3.3v3.3h-3.3zM1515.8 2322.4h3.3v3.3h-3.3zM1515.5 2325.2h3.3v3.3h-3.3zM1515.5 2328.5h3.3v3.3h-3.3zM1515.6 2332.0h3.3v3.3h-3.3zM1515.4 2334.3h3.3v3.3h-3.3zM1514.9 2338.4h3.3v3.3h-3.3zM1515.3 2341.3h3.3v3.3h-3.3zM1516.3 2345.3h3.3v3.3h-3.3zM1515.8 2347.6h3.3v3.3h-3.3zM1519.4 2313.6h3.3v3.3h-3.3zM1519.4 2316.4h3.3v3.3h-3.3zM1518.7 2323.6h3.3v3.3h-3.3zM1518.3 2327.2h3.3v3.3h-3.3zM1518.4 2331.1h3.3v3.3h-3.3zM1519.2 2333.8h3.3v3.3h-3.3zM1519.6 2336.4h3.3v3.3h-3.3zM1519.4 2340.5h3.3v3.3h-3.3zM1519.6 2343.1h3.3v3.3h-3.3zM1518.3 2350.6h3.3v3.3h-3.3zM1519.4 2354.2h3.3v3.3h-3.3zM1522.7 2319.5h3.3v3.3h-3.3zM1522.0 2322.5h3.3v3.3h-3.3zM1521.8 2329.6h3.3v3.3h-3.3zM1522.6 2332.5h3.3v3.3h-3.3zM1521.9 2340.3h3.3v3.3h-3.3zM1522.1 2343.2h3.3v3.3h-3.3zM1522.8 2346.0h3.3v3.3h-3.3zM1522.4 2349.9h3.3v3.3h-3.3zM1526.2 2323.1h3.3v3.3h-3.3zM1525.9 2326.3h3.3v3.3h-3.3zM1526.0 2329.2h3.3v3.3h-3.3zM1526.1 2335.9h3.3v3.3h-3.3zM1526.5 2339.6h3.3v3.3h-3.3zM1525.9 2344.0h3.3v3.3h-3.3zM1525.7 2346.4h3.3v3.3h-3.3zM1526.5 2349.0h3.3v3.3h-3.3zM1525.8 2352.5h3.3v3.3h-3.3zM1529.5 2333.2h3.3v3.3h-3.3zM1529.3 2336.6h3.3v3.3h-3.3zM1529.0 2340.0h3.3v3.3h-3.3zM1529.7 2342.4h3.3v3.3h-3.3zM1530.2 2345.8h3.3v3.3h-3.3zM1530.0 2348.7h3.3v3.3h-3.3zM1529.9 2353.1h3.3v3.3h-3.3zM1532.4 2330.8h3.3v3.3h-3.3zM1533.0 2333.1h3.3v3.3h-3.3zM1533.4 2337.7h3.3v3.3h-3.3zM1533.5 2343.1h3.3v3.3h-3.3zM1532.6 2346.7h3.3v3.3h-3.3zM1533.8 2349.6h3.3v3.3h-3.3zM1533.3 2352.9h3.3v3.3h-3.3zM1536.3 2328.6h3.3v3.3h-3.3zM1535.9 2332.0h3.3v3.3h-3.3zM1537.3 2336.1h3.3v3.3h-3.3zM1536.6 2339.1h3.3v3.3h-3.3zM1537.2 2342.0h3.3v3.3h-3.3zM1536.4 2346.4h3.3v3.3h-3.3zM1540.5 2329.8h3.3v3.3h-3.3zM1539.4 2332.5h3.3v3.3h-3.3zM1540.4 2336.4h3.3v3.3h-3.3zM1540.4 2339.1h3.3v3.3h-3.3zM1540.1 2346.2h3.3v3.3h-3.3zM1539.4 2349.4h3.3v3.3h-3.3zM1539.3 2352.9h3.3v3.3h-3.3zM1544.0 2330.2h3.3v3.3h-3.3zM1544.2 2336.6h3.3v3.3h-3.3zM1543.4 2340.0h3.3v3.3h-3.3zM1543.7 2347.9h3.3v3.3h-3.3zM1547.3 2333.2h3.3v3.3h-3.3zM1546.5 2340.3h3.3v3.3h-3.3zM1546.7 2346.1h3.3v3.3h-3.3zM1546.7 2350.3h3.3v3.3h-3.3zM1549.9 2330.4h3.3v3.3h-3.3zM1550.0 2334.7h3.3v3.3h-3.3zM1551.1 2341.0h3.3v3.3h-3.3zM1550.7 2343.8h3.3v3.3h-3.3zM1554.3 2332.9h3.3v3.3h-3.3zM1557.7 2333.1h3.3v3.3h-3.3zM1557.5 2336.5h3.3v3.3h-3.3zM1557.1 2342.1h3.3v3.3h-3.3zM1560.6 2333.9h3.3v3.3h-3.3zM1561.0 2339.8h3.3v3.3h-3.3zM1563.8 2337.8h3.3v3.3h-3.3zM1564.6 2341.2h3.3v3.3h-3.3z"/>
<path fill="#bd16f0" d="M1484.3 2036.4h3.2v3.2h-3.2zM1484.3 2068.4h3.2v3.2h-3.2zM1484.3 2086.1h3.2v3.2h-3.2zM1484.3 2143.1h3.2v3.2h-3.2zM1486.2 2150.0h3.2v3.2h-3.2zM1482.3 2154.7h3.2v3.2h-3.2zM1485.0 2163.6h3.2v3.2h-3.2zM1482.7 2169.4h3.2v3.2h-3.2zM1484.6 2175.2h3.2v3.2h-3.2z"/>
<path fill="#0cba0c" d="M1180.3 2352.1h3.2v3.2h-3.2zM1188.1 2352.1h3.2v3.2h-3.2zM1195.8 2352.1h3.2v3.2h-3.2zM1203.6 2351.3h3.2v3.2h-3.2zM1211.3 2352.1h3.2v3.2h-3.2zM1219.1 2352.1h3.2v3.2h-3.2zM1226.8 2352.1h3.2v3.2h-3.2zM1234.5 2352.1h3.2v3.2h-3.2zM1242.3 2352.1h3.2v3.2h-3.2zM1250.0 2352.1h3.2v3.2h-3.2zM1257.8 2352.1h3.2v3.2h-3.2zM1265.5 2352.1h3.2v3.2h-3.2zM1273.3 2352.1h3.2v3.2h-3.2zM1281.0 2352.1h3.2v3.2h-3.2zM1288.7 2352.1h3.2v3.2h-3.2zM1180.3 2346.7h3.2v3.2h-3.2zM1195.8 2345.9h3.2v3.2h-3.2zM1203.6 2347.5h3.2v3.2h-3.2zM1219.1 2346.7h3.2v3.2h-3.2zM1265.5 2346.7h3.2v3.2h-3.2zM1281.0 2347.5h3.2v3.2h-3.2zM1296.5 2345.9h3.2v3.2h-3.2zM1188.1 2342.8h3.2v3.2h-3.2zM1211.3 2343.6h3.2v3.2h-3.2zM1281.0 2342.1h3.2v3.2h-3.2zM1226.8 2339.7h3.2v3.2h-3.2zM1234.5 2339.7h3.2v3.2h-3.2zM1242.3 2339.7h3.2v3.2h-3.2zM1250.0 2339.7h3.2v3.2h-3.2zM1219.1 2335.1h3.2v3.2h-3.2zM1234.5 2335.1h3.2v3.2h-3.2zM1242.3 2335.1h3.2v3.2h-3.2zM1257.8 2335.1h3.2v3.2h-3.2zM1226.8 2330.1h3.2v3.2h-3.2zM1234.5 2330.1h3.2v3.2h-3.2zM1242.3 2330.1h3.2v3.2h-3.2zM1250.0 2330.1h3.2v3.2h-3.2zM1234.5 2325.0h3.2v3.2h-3.2zM1242.3 2325.0h3.2v3.2h-3.2zM1250.0 2325.8h3.2v3.2h-3.2zM1242.3 2319.6h3.2v3.2h-3.2zM1234.5 2346.7h3.2v3.2h-3.2zM1242.3 2346.7h3.2v3.2h-3.2zM1250.0 2345.9h3.2v3.2h-3.2z"/>
<line x1="1158.5" y1="2347.0" x2="1322.0" y2="2347.0" stroke="#444444" stroke-width="3.2"/>
<line x1="1404.0" y1="2315.5" x2="1568.0" y2="2315.5" stroke="#444444" stroke-width="3.2"/>
<line x1="1076.2" y1="2024.7" x2="1076.2" y2="2109.0" stroke="#000" stroke-width="4.0"/>
<line x1="1076.2" y1="2135.1" x2="1076.2" y2="2218.5" stroke="#000" stroke-width="4.0"/>
<line x1="1076.2" y1="2244.5" x2="1076.2" y2="2409.7" stroke="#000" stroke-width="4.0"/>
<line x1="1066.2" y1="2107.0" x2="1086.2" y2="2107.0" stroke="#000" stroke-width="4.0"/>
<line x1="1066.2" y1="2137.1" x2="1086.2" y2="2137.1" stroke="#000" stroke-width="4.0"/>
<line x1="1066.2" y1="2216.5" x2="1086.2" y2="2216.5" stroke="#000" stroke-width="4.0"/>
<line x1="1066.2" y1="2246.5" x2="1086.2" y2="2246.5" stroke="#000" stroke-width="4.0"/>
<line x1="1060.7" y1="2026.7" x2="1076.2" y2="2026.7" stroke="#000" stroke-width="4.0"/>
<text transform="translate(967.52,2046.39) scale(0.9550,1)" font-size="55.0" font-weight="bold">300</text>
<line x1="1060.7" y1="2067.4" x2="1076.2" y2="2067.4" stroke="#000" stroke-width="4.0"/>
<text transform="translate(967.52,2087.09) scale(0.9550,1)" font-size="55.0" font-weight="bold">200</text>
<line x1="1060.7" y1="2137.1" x2="1076.2" y2="2137.1" stroke="#000" stroke-width="4.0"/>
<text transform="translate(967.52,2156.79) scale(0.9550,1)" font-size="55.0" font-weight="bold">100</text>
<line x1="1060.7" y1="2186.3" x2="1076.2" y2="2186.3" stroke="#000" stroke-width="4.0"/>
<text transform="translate(996.73,2205.99) scale(0.9550,1)" font-size="55.0" font-weight="bold">50</text>
<line x1="1060.7" y1="2246.5" x2="1076.2" y2="2246.5" stroke="#000" stroke-width="4.0"/>
<text transform="translate(996.73,2266.19) scale(0.9550,1)" font-size="55.0" font-weight="bold">20</text>
<line x1="1060.7" y1="2299.0" x2="1076.2" y2="2299.0" stroke="#000" stroke-width="4.0"/>
<text transform="translate(996.73,2318.69) scale(0.9550,1)" font-size="55.0" font-weight="bold">10</text>
<line x1="1060.7" y1="2353.6" x2="1076.2" y2="2353.6" stroke="#000" stroke-width="4.0"/>
<text transform="translate(1025.94,2373.29) scale(0.9550,1)" font-size="55.0" font-weight="bold">0</text>
<line x1="1060.7" y1="2407.7" x2="1076.2" y2="2407.7" stroke="#000" stroke-width="4.0"/>
<text transform="translate(979.24,2427.39) scale(0.9550,1)" font-size="55.0" font-weight="bold">-10</text>
<line x1="1074.2" y1="2407.7" x2="1650.0" y2="2407.7" stroke="#000" stroke-width="4.0"/>
<line x1="1238.8" y1="2407.7" x2="1238.8" y2="2421.7" stroke="#000" stroke-width="4.0"/>
<line x1="1486.0" y1="2407.7" x2="1486.0" y2="2421.7" stroke="#000" stroke-width="4.0"/>
<text transform="translate(1116.30,2470.80) scale(1.0059,1)" font-size="52.5">Solid tissue</text>
<text transform="translate(1160.52,2529.80) scale(0.9969,1)" font-size="52.5">normal</text>
<text transform="translate(1415.67,2470.80) scale(1.0061,1)" font-size="52.5">Primary</text>
<text transform="translate(1409.20,2529.80) scale(1.0035,1)" font-size="52.5">tumor</text>
<text transform="translate(941.20,2477.60) rotate(-90) scale(1.0116,1)" font-size="63.0" font-weight="bold">mRNA expression</text>
</g>
<g id="B3">
<text transform="translate(212.06,2654.00) scale(0.9836,1)" font-size="65.0">HPV-ve vs. HPV+ve</text>
<text transform="translate(212.07,2725.00) scale(0.9816,1)" font-size="65.0">HNSCC</text>
<text transform="translate(420.55,2782.90) scale(0.9874,1)" font-size="48.0">p&lt;0.004</text>
<line x1="388.0" y1="2798.0" x2="635.4" y2="2798.0" stroke="#222222" stroke-width="2.4"/>
<path fill="#0cba0c" d="M334.0 3187.9h3.5v3.5h-3.5zM334.0 3193.2h3.5v3.5h-3.5zM341.7 3189.6h3.5v3.5h-3.5zM341.7 3194.4h3.5v3.5h-3.5zM349.4 3185.1h3.5v3.5h-3.5zM349.4 3194.9h3.5v3.5h-3.5zM349.4 3200.5h3.5v3.5h-3.5zM357.1 3162.4h3.5v3.5h-3.5zM357.1 3167.6h3.5v3.5h-3.5zM357.1 3187.6h3.5v3.5h-3.5zM357.1 3191.7h3.5v3.5h-3.5zM357.1 3197.6h3.5v3.5h-3.5zM364.8 3166.2h3.5v3.5h-3.5zM364.8 3171.8h3.5v3.5h-3.5zM364.8 3176.9h3.5v3.5h-3.5zM364.8 3182.1h3.5v3.5h-3.5zM364.8 3186.4h3.5v3.5h-3.5zM372.5 3164.4h3.5v3.5h-3.5zM372.5 3170.1h3.5v3.5h-3.5zM372.5 3180.2h3.5v3.5h-3.5zM372.5 3184.3h3.5v3.5h-3.5zM372.5 3190.2h3.5v3.5h-3.5zM372.5 3199.7h3.5v3.5h-3.5zM380.2 3163.1h3.5v3.5h-3.5zM380.2 3168.2h3.5v3.5h-3.5zM380.2 3178.5h3.5v3.5h-3.5zM380.2 3183.3h3.5v3.5h-3.5zM380.2 3193.5h3.5v3.5h-3.5zM380.2 3197.5h3.5v3.5h-3.5zM387.9 3165.5h3.5v3.5h-3.5zM387.9 3170.3h3.5v3.5h-3.5zM387.9 3174.8h3.5v3.5h-3.5zM387.9 3179.8h3.5v3.5h-3.5zM387.9 3184.4h3.5v3.5h-3.5zM387.9 3189.1h3.5v3.5h-3.5zM387.9 3199.0h3.5v3.5h-3.5zM395.6 3164.3h3.5v3.5h-3.5zM395.6 3175.4h3.5v3.5h-3.5zM395.6 3179.7h3.5v3.5h-3.5zM395.6 3185.2h3.5v3.5h-3.5zM395.6 3190.4h3.5v3.5h-3.5zM395.6 3194.9h3.5v3.5h-3.5zM395.6 3200.1h3.5v3.5h-3.5zM403.2 3162.1h3.5v3.5h-3.5zM403.2 3166.8h3.5v3.5h-3.5zM403.2 3171.5h3.5v3.5h-3.5zM403.2 3176.4h3.5v3.5h-3.5zM403.2 3182.1h3.5v3.5h-3.5zM403.2 3192.2h3.5v3.5h-3.5zM403.2 3196.5h3.5v3.5h-3.5zM411.0 3164.9h3.5v3.5h-3.5zM411.0 3174.8h3.5v3.5h-3.5zM411.0 3178.4h3.5v3.5h-3.5zM411.0 3188.6h3.5v3.5h-3.5zM411.0 3194.6h3.5v3.5h-3.5zM411.0 3199.6h3.5v3.5h-3.5zM418.7 3164.0h3.5v3.5h-3.5zM418.7 3168.5h3.5v3.5h-3.5zM418.7 3172.9h3.5v3.5h-3.5zM418.7 3178.9h3.5v3.5h-3.5zM418.7 3183.8h3.5v3.5h-3.5zM418.7 3187.7h3.5v3.5h-3.5zM418.7 3193.8h3.5v3.5h-3.5zM418.7 3197.7h3.5v3.5h-3.5zM426.4 3188.2h3.5v3.5h-3.5zM426.4 3194.0h3.5v3.5h-3.5zM426.4 3198.4h3.5v3.5h-3.5zM434.1 3190.2h3.5v3.5h-3.5zM434.1 3194.5h3.5v3.5h-3.5zM434.1 3199.7h3.5v3.5h-3.5zM441.8 3189.6h3.5v3.5h-3.5zM441.8 3194.2h3.5v3.5h-3.5zM441.8 3198.7h3.5v3.5h-3.5z"/>
<path fill="#0cba0c" d="M387.8 2913.4h3.6v3.6h-3.6zM387.8 3095.8h3.6v3.6h-3.6zM387.8 3121.3h3.6v3.6h-3.6zM387.8 3131.0h3.6v3.6h-3.6zM387.8 3149.2h3.6v3.6h-3.6zM387.8 3154.2h3.6v3.6h-3.6z"/>
<path fill="#bd16f0" d="M633.3 2849.2h3.6v3.6h-3.6zM629.4 3000.2h3.6v3.6h-3.6zM637.9 3000.2h3.6v3.6h-3.6zM633.3 3069.8h3.6v3.6h-3.6zM633.3 3084.6h3.6v3.6h-3.6zM633.3 3093.8h3.6v3.6h-3.6zM633.3 3097.7h3.6v3.6h-3.6zM633.3 3107.0h3.6v3.6h-3.6zM633.3 3115.5h3.6v3.6h-3.6zM633.3 3122.5h3.6v3.6h-3.6zM629.4 3137.2h3.6v3.6h-3.6zM637.9 3138.0h3.6v3.6h-3.6zM645.7 3136.0h3.6v3.6h-3.6zM633.3 3150.0h3.6v3.6h-3.6zM625.5 3162.8h3.6v3.6h-3.6zM633.3 3161.2h3.6v3.6h-3.6zM641.0 3161.2h3.6v3.6h-3.6zM613.9 3172.4h3.6v3.6h-3.6zM621.7 3173.2h3.6v3.6h-3.6zM629.4 3171.7h3.6v3.6h-3.6zM645.7 3170.5h3.6v3.6h-3.6zM637.9 3176.7h3.6v3.6h-3.6zM645.7 3174.8h3.6v3.6h-3.6zM653.4 3174.8h3.6v3.6h-3.6zM613.9 3189.9h3.6v3.6h-3.6zM621.7 3191.8h3.6v3.6h-3.6zM629.4 3189.9h3.6v3.6h-3.6zM637.9 3189.1h3.6v3.6h-3.6zM645.7 3191.8h3.6v3.6h-3.6zM653.4 3189.1h3.6v3.6h-3.6zM613.9 3193.7h3.6v3.6h-3.6zM621.7 3195.7h3.6v3.6h-3.6zM637.9 3194.5h3.6v3.6h-3.6zM653.4 3193.0h3.6v3.6h-3.6zM621.7 3201.5h3.6v3.6h-3.6zM629.4 3199.5h3.6v3.6h-3.6zM637.9 3202.2h3.6v3.6h-3.6zM645.7 3199.5h3.6v3.6h-3.6z"/>
<line x1="308.0" y1="3191.0" x2="472.0" y2="3191.0" stroke="#0c0c0c" stroke-width="2.4"/>
<line x1="553.0" y1="3174.4" x2="717.6" y2="3174.4" stroke="#0c0c0c" stroke-width="2.4"/>
<line x1="226.0" y1="2837.5" x2="226.0" y2="3019.7" stroke="#000" stroke-width="4.0"/>
<line x1="226.0" y1="3044.2" x2="226.0" y2="3225.8" stroke="#000" stroke-width="4.0"/>
<line x1="216.0" y1="3017.7" x2="236.0" y2="3017.7" stroke="#000" stroke-width="4.0"/>
<line x1="216.0" y1="3046.2" x2="236.0" y2="3046.2" stroke="#000" stroke-width="4.0"/>
<line x1="209.6" y1="2839.5" x2="226.0" y2="2839.5" stroke="#000" stroke-width="4.0"/>
<text transform="translate(117.30,2859.55) scale(0.9360,1)" font-size="56.0" font-weight="bold">200</text>
<line x1="209.6" y1="2900.4" x2="226.0" y2="2900.4" stroke="#000" stroke-width="4.0"/>
<text transform="translate(117.30,2920.45) scale(0.9360,1)" font-size="56.0" font-weight="bold">160</text>
<line x1="209.6" y1="2959.6" x2="226.0" y2="2959.6" stroke="#000" stroke-width="4.0"/>
<text transform="translate(117.30,2979.65) scale(0.9360,1)" font-size="56.0" font-weight="bold">120</text>
<line x1="209.6" y1="3046.2" x2="226.0" y2="3046.2" stroke="#000" stroke-width="4.0"/>
<text transform="translate(146.45,3066.25) scale(0.9360,1)" font-size="56.0" font-weight="bold">80</text>
<line x1="209.6" y1="3125.0" x2="226.0" y2="3125.0" stroke="#000" stroke-width="4.0"/>
<text transform="translate(146.45,3145.05) scale(0.9360,1)" font-size="56.0" font-weight="bold">40</text>
<line x1="209.6" y1="3203.7" x2="226.0" y2="3203.7" stroke="#000" stroke-width="4.0"/>
<text transform="translate(175.60,3223.75) scale(0.9360,1)" font-size="56.0" font-weight="bold">0</text>
<line x1="224.0" y1="3223.8" x2="800.0" y2="3223.8" stroke="#000" stroke-width="4.0"/>
<line x1="389.6" y1="3223.8" x2="389.6" y2="3237.8" stroke="#000" stroke-width="4.0"/>
<line x1="635.4" y1="3223.8" x2="635.4" y2="3237.8" stroke="#000" stroke-width="4.0"/>
<text transform="translate(265.96,3286.60) scale(0.9625,1)" font-size="55.0">HPV-ve</text>
<text transform="translate(536.04,3286.60) scale(0.9659,1)" font-size="55.0">HPV +ve</text>
<text transform="translate(91.60,3292.21) rotate(-90) scale(1.0047,1)" font-size="63.5" font-weight="bold">mRNA expression</text>
</g>
<g id="B4">
<text transform="translate(1084.85,2672.00) scale(0.9887,1)" font-size="63.5">HPV-ve Vs. HPV+ve</text>
<text transform="translate(1086.53,2741.60) scale(0.9876,1)" font-size="63.5">Oropharyngeal cancer</text>
<path fill="#0cba0c" d="M1235.9 3011.4h3.6v3.6h-3.6zM1235.9 3064.4h3.6v3.6h-3.6zM1235.9 3094.6h3.6v3.6h-3.6zM1235.9 3112.4h3.6v3.6h-3.6zM1235.9 3138.0h3.6v3.6h-3.6zM1235.9 3158.9h3.6v3.6h-3.6zM1235.9 3183.7h3.6v3.6h-3.6z"/>
<path fill="#bd16f0" d="M1477.5 2846.1h3.6v3.6h-3.6zM1473.6 2947.1h3.6v3.6h-3.6zM1481.3 2946.3h3.6v3.6h-3.6zM1477.5 2971.1h3.6v3.6h-3.6zM1477.5 2978.1h3.6v3.6h-3.6zM1469.7 2982.7h3.6v3.6h-3.6zM1477.5 2985.4h3.6v3.6h-3.6zM1477.5 2989.7h3.6v3.6h-3.6zM1469.7 2994.4h3.6v3.6h-3.6zM1477.5 2997.4h3.6v3.6h-3.6zM1469.7 3005.6h3.6v3.6h-3.6zM1477.5 3004.8h3.6v3.6h-3.6zM1485.2 3004.4h3.6v3.6h-3.6zM1477.5 3011.8h3.6v3.6h-3.6zM1477.5 3066.7h3.6v3.6h-3.6zM1477.5 3071.8h3.6v3.6h-3.6zM1477.5 3092.3h3.6v3.6h-3.6zM1473.6 3098.9h3.6v3.6h-3.6zM1481.3 3098.9h3.6v3.6h-3.6zM1485.2 3103.9h3.6v3.6h-3.6zM1477.5 3106.6h3.6v3.6h-3.6zM1477.5 3112.4h3.6v3.6h-3.6zM1477.5 3145.3h3.6v3.6h-3.6zM1473.6 3151.1h3.6v3.6h-3.6zM1481.3 3150.4h3.6v3.6h-3.6zM1469.7 3157.3h3.6v3.6h-3.6zM1477.5 3157.3h3.6v3.6h-3.6zM1485.2 3158.1h3.6v3.6h-3.6zM1477.5 3162.8h3.6v3.6h-3.6zM1477.5 3168.6h3.6v3.6h-3.6zM1473.6 3178.6h3.6v3.6h-3.6zM1481.3 3177.5h3.6v3.6h-3.6zM1473.6 3186.8h3.6v3.6h-3.6zM1481.3 3186.8h3.6v3.6h-3.6z"/>
<line x1="1157.0" y1="3113.4" x2="1317.7" y2="3113.4" stroke="#5c5c5c" stroke-width="3.9"/>
<line x1="1400.0" y1="3096.0" x2="1559.7" y2="3096.0" stroke="#5c5c5c" stroke-width="3.9"/>
<line x1="1076.4" y1="2838.2" x2="1076.4" y2="3016.6" stroke="#000" stroke-width="4.0"/>
<line x1="1076.4" y1="3040.8" x2="1076.4" y2="3219.3" stroke="#000" stroke-width="4.0"/>
<line x1="1066.4" y1="3014.6" x2="1086.4" y2="3014.6" stroke="#000" stroke-width="4.0"/>
<line x1="1066.4" y1="3042.8" x2="1086.4" y2="3042.8" stroke="#000" stroke-width="4.0"/>
<line x1="1060.2" y1="2840.2" x2="1076.4" y2="2840.2" stroke="#000" stroke-width="4.0"/>
<text transform="translate(970.15,2860.25) scale(0.9200,1)" font-size="56.0" font-weight="bold">200</text>
<line x1="1060.2" y1="2940.0" x2="1076.4" y2="2940.0" stroke="#000" stroke-width="4.0"/>
<text transform="translate(970.15,2960.05) scale(0.9200,1)" font-size="56.0" font-weight="bold">100</text>
<line x1="1060.2" y1="3073.0" x2="1076.4" y2="3073.0" stroke="#000" stroke-width="4.0"/>
<text transform="translate(998.81,3093.05) scale(0.9200,1)" font-size="56.0" font-weight="bold">20</text>
<line x1="1060.2" y1="3130.0" x2="1076.4" y2="3130.0" stroke="#000" stroke-width="4.0"/>
<text transform="translate(998.81,3150.05) scale(0.9200,1)" font-size="56.0" font-weight="bold">10</text>
<line x1="1060.2" y1="3188.4" x2="1076.4" y2="3188.4" stroke="#000" stroke-width="4.0"/>
<text transform="translate(1027.46,3208.45) scale(0.9200,1)" font-size="56.0" font-weight="bold">0</text>
<line x1="1074.4" y1="3217.3" x2="1643.0" y2="3217.3" stroke="#000" stroke-width="4.0"/>
<line x1="1237.5" y1="3217.3" x2="1237.5" y2="3231.3" stroke="#000" stroke-width="4.0"/>
<line x1="1479.5" y1="3217.3" x2="1479.5" y2="3231.3" stroke="#000" stroke-width="4.0"/>
<text transform="translate(1116.75,3279.00) scale(0.9423,1)" font-size="55.0">HPV-ve</text>
<text transform="translate(1383.76,3279.00) scale(0.9404,1)" font-size="55.0">HPV +ve</text>
<text transform="translate(944.70,3284.74) rotate(-90) scale(0.9818,1)" font-size="64.0" font-weight="bold">mRNA expression</text>
</g>
</g>
</svg>
</body></html>
